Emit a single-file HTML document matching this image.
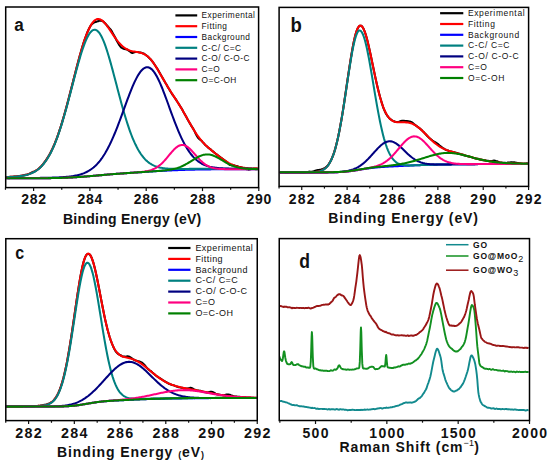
<!DOCTYPE html>
<html><head><meta charset="utf-8"><style>
html,body{margin:0;padding:0;background:#fff;}
body{width:550px;height:465px;overflow:hidden;}
svg{display:block;}
text{font-family:"Liberation Sans",sans-serif;fill:#111;}
.tk,.ax,.pl{font-weight:bold;}
.lg{font-weight:normal;}
.lg2{font-weight:bold;letter-spacing:0.8px;}
</style></head><body>
<svg width="550" height="465" viewBox="0 0 550 465">
<defs>
<clipPath id="ca"><rect x="6.4" y="7.7" width="251.50000000000003" height="179.2"/></clipPath>
<clipPath id="cb"><rect x="279.8" y="8.1" width="248.1" height="177.6"/></clipPath>
<clipPath id="cc_"><rect x="6.5" y="239.39999999999998" width="250.04999999999998" height="180.50000000000003"/></clipPath>
<clipPath id="cd"><rect x="279.95" y="239.29999999999998" width="248.85" height="180.5"/></clipPath>
</defs>
<g clip-path="url(#ca)" fill="none" stroke-linejoin="round" stroke-linecap="round">
<path d="M6.5,177.12 L7.5,176.98 L8.5,177.01 L9.5,176.96 L10.5,176.8 L11.5,176.77 L12.5,176.84 L13.5,176.72 L14.5,176.61 L15.5,176.61 L16.5,176.41 L17.5,176.27 L18.5,176.09 L19.5,176.02 L20.5,175.84 L21.5,175.72 L22.5,175.5 L23.5,175.33 L24.5,175.07 L25.5,174.82 L26.5,174.69 L27.5,174.55 L28.5,174.04 L29.5,173.55 L30.5,173.18 L31.5,172.63 L32.5,172.1 L33.5,171.84 L34.5,171.61 L35.5,170.93 L36.5,170.27 L37.5,169.7 L38.5,168.95 L39.5,167.99 L40.5,167.11 L41.5,166.01 L42.5,164.78 L43.5,163.57 L44.5,162.16 L45.5,160.79 L46.5,159.47 L47.5,157.83 L48.5,156.15 L49.5,154.49 L50.5,152.67 L51.5,150.65 L52.5,148.66 L53.5,146.51 L54.5,144.17 L55.5,141.63 L56.5,139.14 L57.5,136.33 L58.5,133.5 L59.5,130.43 L60.5,127.5 L61.5,124.26 L62.5,120.91 L63.5,117.43 L64.5,114.03 L65.5,110.4 L66.5,106.67 L67.5,102.94 L68.5,99.19 L69.5,95.3 L70.5,91.41 L71.5,87.63 L72.5,83.64 L73.5,79.7 L74.5,75.9 L75.5,71.95 L76.5,67.95 L77.5,64.32 L78.5,60.57 L79.5,56.87 L80.5,53.29 L81.5,49.77 L82.5,46.37 L83.5,43.11 L84.5,40.07 L85.5,37.24 L86.5,34.54 L87.5,31.96 L88.5,29.79 L89.5,27.74 L90.5,25.92 L91.5,24.59 L92.5,23.6 L93.5,22.76 L94.5,22.24 L95.5,21.96 L96.5,21.68 L97.5,21.36 L98.5,21.13 L99.5,20.66 L100.5,20.56 L101.5,20.73 L102.5,21.06 L103.5,21.68 L104.5,22.69 L105.5,23.78 L106.5,24.82 L107.5,26.03 L108.5,27.14 L109.5,28.31 L110.5,29.43 L111.5,30.83 L112.5,32.67 L113.5,34.47 L114.5,36.33 L115.5,38.32 L116.5,40.29 L117.5,42.03 L118.5,43.78 L119.5,45.42 L120.5,46.67 L121.5,47.71 L122.5,48.22 L123.5,48.67 L124.5,49.05 L125.5,49.22 L126.5,49.27 L127.5,49.8 L128.5,50.52 L129.5,51.07 L130.5,51.93 L131.5,52.83 L132.5,52.95 L133.5,52.52 L134.5,52.22 L135.5,52.09 L136.5,51.92 L137.5,52.08 L138.5,52.25 L139.5,52.42 L140.5,52.6 L141.5,52.86 L142.5,53.19 L143.5,53.54 L144.5,54.02 L145.5,54.74 L146.5,55.47 L147.5,56.22 L148.5,57.21 L149.5,58.24 L150.5,59.18 L151.5,60.4 L152.5,61.71 L153.5,62.94 L154.5,64.5 L155.5,66 L156.5,67.47 L157.5,69.02 L158.5,70.76 L159.5,72.54 L160.5,74.24 L161.5,76.08 L162.5,77.73 L163.5,79.5 L164.5,81.17 L165.5,82.95 L166.5,84.57 L167.5,86.42 L168.5,88.11 L169.5,89.7 L170.5,91.45 L171.5,93.08 L172.5,94.56 L173.5,96.03 L174.5,97.51 L175.5,98.9 L176.5,100.42 L177.5,102.04 L178.5,103.5 L179.5,105.17 L180.5,106.75 L181.5,108.32 L182.5,110.04 L183.5,112 L184.5,113.71 L185.5,115.53 L186.5,117.33 L187.5,119.29 L188.5,121.04 L189.5,122.69 L190.5,124.37 L191.5,126.2 L192.5,127.57 L193.5,129.26 L194.5,131.14 L195.5,133.23 L196.5,135.25 L197.5,136.92 L198.5,138.29 L199.5,139.2 L200.5,140 L201.5,140.77 L202.5,141.96 L203.5,142.88 L204.5,144.17 L205.5,145.23 L206.5,146.08 L207.5,146.99 L208.5,147.92 L209.5,148.65 L210.5,149.24 L211.5,150.31 L212.5,151.03 L213.5,151.88 L214.5,152.74 L215.5,153.59 L216.5,154.22 L217.5,155.04 L218.5,155.83 L219.5,156.47 L220.5,157.24 L221.5,157.99 L222.5,158.73 L223.5,159.46 L224.5,160.24 L225.5,161.08 L226.5,161.91 L227.5,162.89 L228.5,163.86 L229.5,164.7 L230.5,165.05 L231.5,165.27 L232.5,165.19 L233.5,165.24 L234.5,165.48 L235.5,165.88 L236.5,166.1 L237.5,166.31 L238.5,166.67 L239.5,166.92 L240.5,167.02 L241.5,167.37 L242.5,167.77 L243.5,167.99 L244.5,168.36 L245.5,168.85 L246.5,169.15 L247.5,169.31 L248.5,169.62 L249.5,169.49 L250.5,169.19 L251.5,168.99 L252.5,168.88 L253.5,168.61 L254.5,168.53 L255.5,168.6 L256.5,168.54 L257.5,168.58" stroke="#000000" stroke-width="2.05"/>
<path d="M6.5,177 L7.5,176.96 L8.5,176.92 L9.5,176.87 L10.5,176.82 L11.5,176.76 L12.5,176.7 L13.5,176.63 L14.5,176.55 L15.5,176.47 L16.5,176.37 L17.5,176.27 L18.5,176.16 L19.5,176.03 L20.5,175.9 L21.5,175.74 L22.5,175.57 L23.5,175.39 L24.5,175.18 L25.5,174.95 L26.5,174.69 L27.5,174.41 L28.5,174.1 L29.5,173.76 L30.5,173.38 L31.5,172.96 L32.5,172.5 L33.5,172 L34.5,171.45 L35.5,170.85 L36.5,170.19 L37.5,169.47 L38.5,168.69 L39.5,167.84 L40.5,166.91 L41.5,165.91 L42.5,164.83 L43.5,163.66 L44.5,162.41 L45.5,161.05 L46.5,159.61 L47.5,158.05 L48.5,156.4 L49.5,154.63 L50.5,152.75 L51.5,150.76 L52.5,148.65 L53.5,146.42 L54.5,144.07 L55.5,141.59 L56.5,139 L57.5,136.28 L58.5,133.45 L59.5,130.5 L60.5,127.43 L61.5,124.25 L62.5,120.96 L63.5,117.57 L64.5,114.08 L65.5,110.5 L66.5,106.84 L67.5,103.11 L68.5,99.32 L69.5,95.47 L70.5,91.58 L71.5,87.66 L72.5,83.72 L73.5,79.77 L74.5,75.84 L75.5,71.93 L76.5,68.05 L77.5,64.23 L78.5,60.48 L79.5,56.8 L80.5,53.23 L81.5,49.76 L82.5,46.43 L83.5,43.23 L84.5,40.19 L85.5,37.32 L86.5,34.63 L87.5,32.13 L88.5,29.83 L89.5,27.73 L90.5,25.86 L91.5,24.2 L92.5,22.77 L93.5,21.57 L94.5,20.6 L95.5,19.86 L96.5,19.36 L97.5,19.09 L98.5,19.04 L99.5,19.21 L100.5,19.58 L101.5,20.14 L102.5,20.88 L103.5,21.77 L104.5,22.8 L105.5,23.95 L106.5,25.2 L107.5,26.54 L108.5,27.95 L109.5,29.41 L110.5,30.89 L111.5,32.39 L112.5,33.89 L113.5,35.37 L114.5,36.82 L115.5,38.22 L116.5,39.58 L117.5,40.87 L118.5,42.09 L119.5,43.24 L120.5,44.31 L121.5,45.29 L122.5,46.2 L123.5,47.02 L124.5,47.76 L125.5,48.42 L126.5,49.01 L127.5,49.52 L128.5,49.97 L129.5,50.35 L130.5,50.68 L131.5,50.96 L132.5,51.2 L133.5,51.4 L134.5,51.58 L135.5,51.74 L136.5,51.91 L137.5,52.07 L138.5,52.26 L139.5,52.47 L140.5,52.72 L141.5,53.02 L142.5,53.37 L143.5,53.8 L144.5,54.29 L145.5,54.87 L146.5,55.54 L147.5,56.29 L148.5,57.15 L149.5,58.12 L150.5,59.2 L151.5,60.38 L152.5,61.66 L153.5,63.03 L154.5,64.49 L155.5,66.01 L156.5,67.6 L157.5,69.25 L158.5,70.93 L159.5,72.65 L160.5,74.39 L161.5,76.13 L162.5,77.88 L163.5,79.62 L164.5,81.35 L165.5,83.06 L166.5,84.74 L167.5,86.4 L168.5,88.03 L169.5,89.64 L170.5,91.22 L171.5,92.78 L172.5,94.33 L173.5,95.86 L174.5,97.4 L175.5,98.93 L176.5,100.48 L177.5,102.04 L178.5,103.62 L179.5,105.22 L180.5,106.85 L181.5,108.51 L182.5,110.2 L183.5,111.91 L184.5,113.66 L185.5,115.42 L186.5,117.19 L187.5,118.98 L188.5,120.76 L189.5,122.54 L190.5,124.3 L191.5,126.04 L192.5,127.74 L193.5,129.4 L194.5,131.02 L195.5,132.58 L196.5,134.09 L197.5,135.53 L198.5,136.91 L199.5,138.23 L200.5,139.49 L201.5,140.69 L202.5,141.83 L203.5,142.91 L204.5,143.95 L205.5,144.95 L206.5,145.9 L207.5,146.83 L208.5,147.72 L209.5,148.6 L210.5,149.45 L211.5,150.29 L212.5,151.12 L213.5,151.94 L214.5,152.75 L215.5,153.55 L216.5,154.35 L217.5,155.14 L218.5,155.92 L219.5,156.69 L220.5,157.45 L221.5,158.19 L222.5,158.92 L223.5,159.62 L224.5,160.31 L225.5,160.97 L226.5,161.6 L227.5,162.2 L228.5,162.78 L229.5,163.32 L230.5,163.83 L231.5,164.31 L232.5,164.75 L233.5,165.16 L234.5,165.54 L235.5,165.89 L236.5,166.21 L237.5,166.5 L238.5,166.76 L239.5,167 L240.5,167.21 L241.5,167.4 L242.5,167.56 L243.5,167.71 L244.5,167.84 L245.5,167.95 L246.5,168.05 L247.5,168.14 L248.5,168.22 L249.5,168.28 L250.5,168.34 L251.5,168.39 L252.5,168.43 L253.5,168.47 L254.5,168.5 L255.5,168.53 L256.5,168.55 L257.5,168.57" stroke="#ff0000" stroke-width="2.05"/>
<path d="M6.5,178.3 L7.5,178.3 L8.5,178.3 L9.5,178.3 L10.5,178.3 L11.5,178.3 L12.5,178.29 L13.5,178.29 L14.5,178.29 L15.5,178.29 L16.5,178.29 L17.5,178.29 L18.5,178.29 L19.5,178.29 L20.5,178.29 L21.5,178.28 L22.5,178.28 L23.5,178.28 L24.5,178.28 L25.5,178.28 L26.5,178.27 L27.5,178.27 L28.5,178.27 L29.5,178.27 L30.5,178.26 L31.5,178.26 L32.5,178.26 L33.5,178.25 L34.5,178.25 L35.5,178.25 L36.5,178.24 L37.5,178.24 L38.5,178.23 L39.5,178.23 L40.5,178.22 L41.5,178.21 L42.5,178.2 L43.5,178.2 L44.5,178.19 L45.5,178.18 L46.5,178.17 L47.5,178.16 L48.5,178.14 L49.5,178.13 L50.5,178.11 L51.5,178.1 L52.5,178.08 L53.5,178.06 L54.5,178.04 L55.5,178.02 L56.5,178 L57.5,177.98 L58.5,177.95 L59.5,177.93 L60.5,177.9 L61.5,177.87 L62.5,177.83 L63.5,177.8 L64.5,177.76 L65.5,177.72 L66.5,177.68 L67.5,177.64 L68.5,177.6 L69.5,177.55 L70.5,177.5 L71.5,177.45 L72.5,177.39 L73.5,177.34 L74.5,177.28 L75.5,177.22 L76.5,177.16 L77.5,177.09 L78.5,177.03 L79.5,176.96 L80.5,176.89 L81.5,176.82 L82.5,176.74 L83.5,176.66 L84.5,176.59 L85.5,176.51 L86.5,176.43 L87.5,176.34 L88.5,176.26 L89.5,176.17 L90.5,176.09 L91.5,176 L92.5,175.91 L93.5,175.83 L94.5,175.74 L95.5,175.65 L96.5,175.56 L97.5,175.47 L98.5,175.38 L99.5,175.29 L100.5,175.2 L101.5,175.11 L102.5,175.02 L103.5,174.94 L104.5,174.85 L105.5,174.76 L106.5,174.68 L107.5,174.59 L108.5,174.51 L109.5,174.43 L110.5,174.34 L111.5,174.26 L112.5,174.18 L113.5,174.1 L114.5,174.03 L115.5,173.95 L116.5,173.87 L117.5,173.8 L118.5,173.72 L119.5,173.65 L120.5,173.57 L121.5,173.5 L122.5,173.43 L123.5,173.36 L124.5,173.29 L125.5,173.21 L126.5,173.14 L127.5,173.07 L128.5,173 L129.5,172.93 L130.5,172.86 L131.5,172.79 L132.5,172.73 L133.5,172.66 L134.5,172.59 L135.5,172.52 L136.5,172.45 L137.5,172.38 L138.5,172.31 L139.5,172.24 L140.5,172.18 L141.5,172.11 L142.5,172.04 L143.5,171.97 L144.5,171.91 L145.5,171.84 L146.5,171.77 L147.5,171.71 L148.5,171.64 L149.5,171.58 L150.5,171.51 L151.5,171.45 L152.5,171.38 L153.5,171.32 L154.5,171.26 L155.5,171.2 L156.5,171.14 L157.5,171.08 L158.5,171.03 L159.5,170.97 L160.5,170.92 L161.5,170.86 L162.5,170.81 L163.5,170.76 L164.5,170.7 L165.5,170.65 L166.5,170.61 L167.5,170.56 L168.5,170.51 L169.5,170.46 L170.5,170.42 L171.5,170.37 L172.5,170.33 L173.5,170.29 L174.5,170.25 L175.5,170.21 L176.5,170.17 L177.5,170.13 L178.5,170.09 L179.5,170.05 L180.5,170.02 L181.5,169.98 L182.5,169.95 L183.5,169.91 L184.5,169.88 L185.5,169.85 L186.5,169.82 L187.5,169.79 L188.5,169.76 L189.5,169.74 L190.5,169.71 L191.5,169.68 L192.5,169.66 L193.5,169.64 L194.5,169.62 L195.5,169.59 L196.5,169.57 L197.5,169.55 L198.5,169.54 L199.5,169.52 L200.5,169.5 L201.5,169.48 L202.5,169.47 L203.5,169.45 L204.5,169.44 L205.5,169.43 L206.5,169.41 L207.5,169.4 L208.5,169.39 L209.5,169.37 L210.5,169.36 L211.5,169.35 L212.5,169.34 L213.5,169.33 L214.5,169.32 L215.5,169.31 L216.5,169.3 L217.5,169.3 L218.5,169.29 L219.5,169.28 L220.5,169.27 L221.5,169.27 L222.5,169.26 L223.5,169.26 L224.5,169.25 L225.5,169.25 L226.5,169.24 L227.5,169.24 L228.5,169.24 L229.5,169.23 L230.5,169.23 L231.5,169.23 L232.5,169.22 L233.5,169.22 L234.5,169.22 L235.5,169.22 L236.5,169.22 L237.5,169.21 L238.5,169.21 L239.5,169.21 L240.5,169.21 L241.5,169.21 L242.5,169.21 L243.5,169.21 L244.5,169.21 L245.5,169.21 L246.5,169.21 L247.5,169.2 L248.5,169.2 L249.5,169.2 L250.5,169.2 L251.5,169.2 L252.5,169.2 L253.5,169.2 L254.5,169.2 L255.5,169.2 L256.5,169.2 L257.5,169.2" stroke="#0000ff" stroke-width="2.05"/>
<path d="M6.5,177.2 L7.5,177.16 L8.5,177.12 L9.5,177.07 L10.5,177.02 L11.5,176.97 L12.5,176.91 L13.5,176.84 L14.5,176.77 L15.5,176.69 L16.5,176.6 L17.5,176.5 L18.5,176.39 L19.5,176.27 L20.5,176.13 L21.5,175.98 L22.5,175.82 L23.5,175.63 L24.5,175.43 L25.5,175.2 L26.5,174.95 L27.5,174.67 L28.5,174.37 L29.5,174.03 L30.5,173.65 L31.5,173.24 L32.5,172.79 L33.5,172.29 L34.5,171.75 L35.5,171.15 L36.5,170.5 L37.5,169.78 L38.5,169.01 L39.5,168.16 L40.5,167.24 L41.5,166.25 L42.5,165.17 L43.5,164.01 L44.5,162.76 L45.5,161.42 L46.5,159.98 L47.5,158.44 L48.5,156.79 L49.5,155.03 L50.5,153.17 L51.5,151.18 L52.5,149.09 L53.5,146.87 L54.5,144.53 L55.5,142.08 L56.5,139.5 L57.5,136.8 L58.5,133.99 L59.5,131.06 L60.5,128.01 L61.5,124.86 L62.5,121.6 L63.5,118.25 L64.5,114.8 L65.5,111.27 L66.5,107.66 L67.5,103.98 L68.5,100.25 L69.5,96.47 L70.5,92.65 L71.5,88.81 L72.5,84.97 L73.5,81.13 L74.5,77.32 L75.5,73.53 L76.5,69.81 L77.5,66.15 L78.5,62.57 L79.5,59.1 L80.5,55.74 L81.5,52.52 L82.5,49.46 L83.5,46.56 L84.5,43.85 L85.5,41.33 L86.5,39.04 L87.5,36.97 L88.5,35.14 L89.5,33.56 L90.5,32.24 L91.5,31.2 L92.5,30.43 L93.5,29.94 L94.5,29.74 L95.5,29.83 L96.5,30.23 L97.5,30.92 L98.5,31.91 L99.5,33.18 L100.5,34.73 L101.5,36.55 L102.5,38.61 L103.5,40.92 L104.5,43.45 L105.5,46.18 L106.5,49.11 L107.5,52.21 L108.5,55.46 L109.5,58.85 L110.5,62.35 L111.5,65.96 L112.5,69.64 L113.5,73.39 L114.5,77.18 L115.5,81 L116.5,84.84 L117.5,88.66 L118.5,92.48 L119.5,96.25 L120.5,99.98 L121.5,103.66 L122.5,107.26 L123.5,110.79 L124.5,114.22 L125.5,117.56 L126.5,120.8 L127.5,123.92 L128.5,126.93 L129.5,129.82 L130.5,132.59 L131.5,135.24 L132.5,137.76 L133.5,140.15 L134.5,142.42 L135.5,144.56 L136.5,146.57 L137.5,148.47 L138.5,150.25 L139.5,151.91 L140.5,153.46 L141.5,154.9 L142.5,156.24 L143.5,157.48 L144.5,158.62 L145.5,159.67 L146.5,160.64 L147.5,161.52 L148.5,162.33 L149.5,163.07 L150.5,163.74 L151.5,164.35 L152.5,164.89 L153.5,165.39 L154.5,165.83 L155.5,166.23 L156.5,166.59 L157.5,166.91 L158.5,167.19 L159.5,167.44 L160.5,167.66 L161.5,167.86 L162.5,168.03 L163.5,168.18 L164.5,168.31 L165.5,168.42 L166.5,168.52 L167.5,168.6 L168.5,168.67 L169.5,168.73 L170.5,168.78 L171.5,168.82 L172.5,168.85 L173.5,168.88 L174.5,168.9 L175.5,168.92 L176.5,168.93 L177.5,168.94 L178.5,168.94 L179.5,168.94 L180.5,168.94 L181.5,168.94 L182.5,168.94 L183.5,168.93 L184.5,168.93 L185.5,168.92 L186.5,168.92 L187.5,168.91 L188.5,168.9 L189.5,168.89 L190.5,168.89 L191.5,168.88 L192.5,168.87 L193.5,168.86 L194.5,168.86 L195.5,168.85 L196.5,168.85 L197.5,168.84 L198.5,168.84 L199.5,168.83 L200.5,168.83 L201.5,168.82 L202.5,168.82 L203.5,168.81 L204.5,168.81 L205.5,168.81 L206.5,168.8 L207.5,168.8 L208.5,168.8 L209.5,168.8 L210.5,168.79 L211.5,168.79 L212.5,168.79 L213.5,168.79 L214.5,168.79 L215.5,168.79 L216.5,168.79 L217.5,168.79 L218.5,168.79 L219.5,168.79 L220.5,168.79 L221.5,168.79 L222.5,168.79 L223.5,168.79 L224.5,168.8 L225.5,168.8 L226.5,168.8 L227.5,168.8 L228.5,168.8 L229.5,168.81 L230.5,168.81 L231.5,168.81 L232.5,168.82 L233.5,168.82 L234.5,168.82 L235.5,168.83 L236.5,168.83 L237.5,168.83 L238.5,168.84 L239.5,168.84 L240.5,168.84 L241.5,168.85 L242.5,168.85 L243.5,168.86 L244.5,168.86 L245.5,168.86 L246.5,168.87 L247.5,168.87 L248.5,168.87 L249.5,168.88 L250.5,168.88 L251.5,168.88 L252.5,168.89 L253.5,168.89 L254.5,168.9 L255.5,168.9 L256.5,168.9 L257.5,168.9" stroke="#008080" stroke-width="2.05"/>
<path d="M6.5,178.11 L7.5,178.1 L8.5,178.1 L9.5,178.1 L10.5,178.09 L11.5,178.09 L12.5,178.08 L13.5,178.08 L14.5,178.08 L15.5,178.07 L16.5,178.07 L17.5,178.06 L18.5,178.06 L19.5,178.05 L20.5,178.05 L21.5,178.04 L22.5,178.04 L23.5,178.03 L24.5,178.03 L25.5,178.02 L26.5,178.01 L27.5,178.01 L28.5,178 L29.5,177.99 L30.5,177.99 L31.5,177.98 L32.5,177.97 L33.5,177.96 L34.5,177.95 L35.5,177.94 L36.5,177.93 L37.5,177.92 L38.5,177.91 L39.5,177.9 L40.5,177.89 L41.5,177.87 L42.5,177.86 L43.5,177.84 L44.5,177.83 L45.5,177.81 L46.5,177.79 L47.5,177.77 L48.5,177.75 L49.5,177.73 L50.5,177.7 L51.5,177.67 L52.5,177.64 L53.5,177.61 L54.5,177.58 L55.5,177.54 L56.5,177.5 L57.5,177.46 L58.5,177.41 L59.5,177.36 L60.5,177.31 L61.5,177.25 L62.5,177.18 L63.5,177.12 L64.5,177.04 L65.5,176.96 L66.5,176.87 L67.5,176.77 L68.5,176.67 L69.5,176.55 L70.5,176.43 L71.5,176.29 L72.5,176.14 L73.5,175.98 L74.5,175.8 L75.5,175.61 L76.5,175.41 L77.5,175.18 L78.5,174.93 L79.5,174.66 L80.5,174.37 L81.5,174.06 L82.5,173.71 L83.5,173.34 L84.5,172.93 L85.5,172.49 L86.5,172.02 L87.5,171.5 L88.5,170.95 L89.5,170.35 L90.5,169.7 L91.5,169.01 L92.5,168.26 L93.5,167.46 L94.5,166.6 L95.5,165.67 L96.5,164.69 L97.5,163.64 L98.5,162.52 L99.5,161.33 L100.5,160.06 L101.5,158.72 L102.5,157.3 L103.5,155.8 L104.5,154.23 L105.5,152.57 L106.5,150.82 L107.5,149 L108.5,147.09 L109.5,145.11 L110.5,143.04 L111.5,140.89 L112.5,138.67 L113.5,136.37 L114.5,134 L115.5,131.57 L116.5,129.07 L117.5,126.52 L118.5,123.91 L119.5,121.26 L120.5,118.58 L121.5,115.86 L122.5,113.13 L123.5,110.38 L124.5,107.62 L125.5,104.88 L126.5,102.14 L127.5,99.44 L128.5,96.77 L129.5,94.15 L130.5,91.59 L131.5,89.11 L132.5,86.7 L133.5,84.39 L134.5,82.18 L135.5,80.09 L136.5,78.12 L137.5,76.29 L138.5,74.6 L139.5,73.08 L140.5,71.71 L141.5,70.51 L142.5,69.49 L143.5,68.66 L144.5,68.01 L145.5,67.56 L146.5,67.3 L147.5,67.23 L148.5,67.38 L149.5,67.74 L150.5,68.32 L151.5,69.1 L152.5,70.08 L153.5,71.25 L154.5,72.61 L155.5,74.15 L156.5,75.86 L157.5,77.72 L158.5,79.73 L159.5,81.87 L160.5,84.13 L161.5,86.5 L162.5,88.96 L163.5,91.51 L164.5,94.12 L165.5,96.79 L166.5,99.51 L167.5,102.25 L168.5,105.01 L169.5,107.78 L170.5,110.54 L171.5,113.29 L172.5,116.01 L173.5,118.7 L174.5,121.34 L175.5,123.94 L176.5,126.47 L177.5,128.94 L178.5,131.34 L179.5,133.66 L180.5,135.91 L181.5,138.07 L182.5,140.14 L183.5,142.12 L184.5,144.02 L185.5,145.82 L186.5,147.54 L187.5,149.16 L188.5,150.7 L189.5,152.14 L190.5,153.5 L191.5,154.78 L192.5,155.97 L193.5,157.09 L194.5,158.12 L195.5,159.08 L196.5,159.98 L197.5,160.8 L198.5,161.56 L199.5,162.26 L200.5,162.9 L201.5,163.49 L202.5,164.03 L203.5,164.52 L204.5,164.96 L205.5,165.37 L206.5,165.74 L207.5,166.07 L208.5,166.37 L209.5,166.64 L210.5,166.88 L211.5,167.1 L212.5,167.29 L213.5,167.46 L214.5,167.62 L215.5,167.76 L216.5,167.88 L217.5,167.99 L218.5,168.09 L219.5,168.17 L220.5,168.25 L221.5,168.32 L222.5,168.38 L223.5,168.43 L224.5,168.48 L225.5,168.52 L226.5,168.56 L227.5,168.59 L228.5,168.62 L229.5,168.65 L230.5,168.67 L231.5,168.69 L232.5,168.71 L233.5,168.73 L234.5,168.74 L235.5,168.76 L236.5,168.77 L237.5,168.78 L238.5,168.79 L239.5,168.8 L240.5,168.81 L241.5,168.82 L242.5,168.83 L243.5,168.84 L244.5,168.85 L245.5,168.85 L246.5,168.86 L247.5,168.87 L248.5,168.87 L249.5,168.88 L250.5,168.88 L251.5,168.89 L252.5,168.9 L253.5,168.9 L254.5,168.91 L255.5,168.91 L256.5,168.92 L257.5,168.92" stroke="#000080" stroke-width="2.05"/>
<path d="M6.5,178.3 L7.5,178.3 L8.5,178.3 L9.5,178.3 L10.5,178.3 L11.5,178.3 L12.5,178.29 L13.5,178.29 L14.5,178.29 L15.5,178.29 L16.5,178.29 L17.5,178.29 L18.5,178.29 L19.5,178.29 L20.5,178.29 L21.5,178.28 L22.5,178.28 L23.5,178.28 L24.5,178.28 L25.5,178.28 L26.5,178.27 L27.5,178.27 L28.5,178.27 L29.5,178.27 L30.5,178.26 L31.5,178.26 L32.5,178.26 L33.5,178.25 L34.5,178.25 L35.5,178.25 L36.5,178.24 L37.5,178.24 L38.5,178.23 L39.5,178.23 L40.5,178.22 L41.5,178.21 L42.5,178.2 L43.5,178.2 L44.5,178.19 L45.5,178.18 L46.5,178.17 L47.5,178.16 L48.5,178.14 L49.5,178.13 L50.5,178.11 L51.5,178.1 L52.5,178.08 L53.5,178.06 L54.5,178.04 L55.5,178.02 L56.5,178 L57.5,177.98 L58.5,177.95 L59.5,177.93 L60.5,177.9 L61.5,177.87 L62.5,177.83 L63.5,177.8 L64.5,177.76 L65.5,177.72 L66.5,177.68 L67.5,177.64 L68.5,177.6 L69.5,177.55 L70.5,177.5 L71.5,177.45 L72.5,177.39 L73.5,177.34 L74.5,177.28 L75.5,177.22 L76.5,177.16 L77.5,177.09 L78.5,177.03 L79.5,176.96 L80.5,176.89 L81.5,176.82 L82.5,176.74 L83.5,176.66 L84.5,176.59 L85.5,176.51 L86.5,176.43 L87.5,176.34 L88.5,176.26 L89.5,176.17 L90.5,176.09 L91.5,176 L92.5,175.91 L93.5,175.83 L94.5,175.74 L95.5,175.65 L96.5,175.56 L97.5,175.47 L98.5,175.38 L99.5,175.29 L100.5,175.2 L101.5,175.11 L102.5,175.02 L103.5,174.94 L104.5,174.85 L105.5,174.76 L106.5,174.68 L107.5,174.59 L108.5,174.51 L109.5,174.43 L110.5,174.34 L111.5,174.26 L112.5,174.18 L113.5,174.1 L114.5,174.03 L115.5,173.95 L116.5,173.87 L117.5,173.8 L118.5,173.72 L119.5,173.65 L120.5,173.57 L121.5,173.5 L122.5,173.43 L123.5,173.36 L124.5,173.28 L125.5,173.21 L126.5,173.14 L127.5,173.07 L128.5,173 L129.5,172.93 L130.5,172.85 L131.5,172.78 L132.5,172.71 L133.5,172.63 L134.5,172.56 L135.5,172.48 L136.5,172.4 L137.5,172.31 L138.5,172.22 L139.5,172.12 L140.5,172.02 L141.5,171.91 L142.5,171.79 L143.5,171.66 L144.5,171.52 L145.5,171.35 L146.5,171.17 L147.5,170.97 L148.5,170.74 L149.5,170.48 L150.5,170.18 L151.5,169.85 L152.5,169.48 L153.5,169.06 L154.5,168.59 L155.5,168.07 L156.5,167.49 L157.5,166.85 L158.5,166.15 L159.5,165.38 L160.5,164.55 L161.5,163.65 L162.5,162.69 L163.5,161.67 L164.5,160.6 L165.5,159.48 L166.5,158.32 L167.5,157.14 L168.5,155.93 L169.5,154.72 L170.5,153.51 L171.5,152.33 L172.5,151.19 L173.5,150.1 L174.5,149.08 L175.5,148.14 L176.5,147.31 L177.5,146.58 L178.5,145.98 L179.5,145.51 L180.5,145.18 L181.5,145 L182.5,144.96 L183.5,145.08 L184.5,145.34 L185.5,145.74 L186.5,146.27 L187.5,146.93 L188.5,147.7 L189.5,148.57 L190.5,149.52 L191.5,150.54 L192.5,151.62 L193.5,152.73 L194.5,153.87 L195.5,155.01 L196.5,156.15 L197.5,157.27 L198.5,158.36 L199.5,159.42 L200.5,160.42 L201.5,161.37 L202.5,162.26 L203.5,163.09 L204.5,163.85 L205.5,164.55 L206.5,165.18 L207.5,165.75 L208.5,166.26 L209.5,166.71 L210.5,167.1 L211.5,167.45 L212.5,167.75 L213.5,168 L214.5,168.22 L215.5,168.41 L216.5,168.57 L217.5,168.7 L218.5,168.8 L219.5,168.89 L220.5,168.96 L221.5,169.02 L222.5,169.07 L223.5,169.1 L224.5,169.13 L225.5,169.15 L226.5,169.17 L227.5,169.18 L228.5,169.19 L229.5,169.2 L230.5,169.21 L231.5,169.21 L232.5,169.21 L233.5,169.21 L234.5,169.21 L235.5,169.21 L236.5,169.21 L237.5,169.21 L238.5,169.21 L239.5,169.21 L240.5,169.21 L241.5,169.21 L242.5,169.21 L243.5,169.21 L244.5,169.21 L245.5,169.21 L246.5,169.2 L247.5,169.2 L248.5,169.2 L249.5,169.2 L250.5,169.2 L251.5,169.2 L252.5,169.2 L253.5,169.2 L254.5,169.2 L255.5,169.2 L256.5,169.2 L257.5,169.2" stroke="#ff0080" stroke-width="2.05"/>
<path d="M6.5,178.3 L7.5,178.3 L8.5,178.3 L9.5,178.3 L10.5,178.3 L11.5,178.3 L12.5,178.29 L13.5,178.29 L14.5,178.29 L15.5,178.29 L16.5,178.29 L17.5,178.29 L18.5,178.29 L19.5,178.29 L20.5,178.29 L21.5,178.28 L22.5,178.28 L23.5,178.28 L24.5,178.28 L25.5,178.28 L26.5,178.27 L27.5,178.27 L28.5,178.27 L29.5,178.27 L30.5,178.26 L31.5,178.26 L32.5,178.26 L33.5,178.25 L34.5,178.25 L35.5,178.25 L36.5,178.24 L37.5,178.24 L38.5,178.23 L39.5,178.23 L40.5,178.22 L41.5,178.21 L42.5,178.2 L43.5,178.2 L44.5,178.19 L45.5,178.18 L46.5,178.17 L47.5,178.16 L48.5,178.14 L49.5,178.13 L50.5,178.11 L51.5,178.1 L52.5,178.08 L53.5,178.06 L54.5,178.04 L55.5,178.02 L56.5,178 L57.5,177.98 L58.5,177.95 L59.5,177.93 L60.5,177.9 L61.5,177.87 L62.5,177.83 L63.5,177.8 L64.5,177.76 L65.5,177.72 L66.5,177.68 L67.5,177.64 L68.5,177.6 L69.5,177.55 L70.5,177.5 L71.5,177.45 L72.5,177.39 L73.5,177.34 L74.5,177.28 L75.5,177.22 L76.5,177.16 L77.5,177.09 L78.5,177.03 L79.5,176.96 L80.5,176.89 L81.5,176.82 L82.5,176.74 L83.5,176.66 L84.5,176.59 L85.5,176.51 L86.5,176.43 L87.5,176.34 L88.5,176.26 L89.5,176.17 L90.5,176.09 L91.5,176 L92.5,175.91 L93.5,175.83 L94.5,175.74 L95.5,175.65 L96.5,175.56 L97.5,175.47 L98.5,175.38 L99.5,175.29 L100.5,175.2 L101.5,175.11 L102.5,175.02 L103.5,174.94 L104.5,174.85 L105.5,174.76 L106.5,174.68 L107.5,174.59 L108.5,174.51 L109.5,174.43 L110.5,174.34 L111.5,174.26 L112.5,174.18 L113.5,174.1 L114.5,174.03 L115.5,173.95 L116.5,173.87 L117.5,173.8 L118.5,173.72 L119.5,173.65 L120.5,173.57 L121.5,173.5 L122.5,173.43 L123.5,173.36 L124.5,173.29 L125.5,173.21 L126.5,173.14 L127.5,173.07 L128.5,173 L129.5,172.93 L130.5,172.86 L131.5,172.79 L132.5,172.73 L133.5,172.66 L134.5,172.59 L135.5,172.52 L136.5,172.45 L137.5,172.38 L138.5,172.31 L139.5,172.24 L140.5,172.18 L141.5,172.11 L142.5,172.04 L143.5,171.97 L144.5,171.9 L145.5,171.83 L146.5,171.77 L147.5,171.7 L148.5,171.63 L149.5,171.57 L150.5,171.5 L151.5,171.43 L152.5,171.36 L153.5,171.3 L154.5,171.23 L155.5,171.16 L156.5,171.09 L157.5,171.02 L158.5,170.95 L159.5,170.87 L160.5,170.79 L161.5,170.71 L162.5,170.62 L163.5,170.53 L164.5,170.43 L165.5,170.33 L166.5,170.21 L167.5,170.09 L168.5,169.95 L169.5,169.81 L170.5,169.64 L171.5,169.46 L172.5,169.27 L173.5,169.05 L174.5,168.81 L175.5,168.55 L176.5,168.27 L177.5,167.96 L178.5,167.62 L179.5,167.26 L180.5,166.87 L181.5,166.44 L182.5,165.99 L183.5,165.52 L184.5,165.01 L185.5,164.48 L186.5,163.92 L187.5,163.35 L188.5,162.75 L189.5,162.14 L190.5,161.52 L191.5,160.89 L192.5,160.26 L193.5,159.63 L194.5,159.02 L195.5,158.41 L196.5,157.83 L197.5,157.28 L198.5,156.76 L199.5,156.28 L200.5,155.85 L201.5,155.46 L202.5,155.13 L203.5,154.86 L204.5,154.65 L205.5,154.5 L206.5,154.42 L207.5,154.41 L208.5,154.46 L209.5,154.58 L210.5,154.77 L211.5,155.01 L212.5,155.32 L213.5,155.68 L214.5,156.08 L215.5,156.54 L216.5,157.03 L217.5,157.56 L218.5,158.11 L219.5,158.68 L220.5,159.27 L221.5,159.87 L222.5,160.47 L223.5,161.07 L224.5,161.66 L225.5,162.24 L226.5,162.8 L227.5,163.34 L228.5,163.87 L229.5,164.36 L230.5,164.83 L231.5,165.27 L232.5,165.69 L233.5,166.07 L234.5,166.42 L235.5,166.75 L236.5,167.05 L237.5,167.32 L238.5,167.56 L239.5,167.78 L240.5,167.97 L241.5,168.14 L242.5,168.3 L243.5,168.43 L244.5,168.55 L245.5,168.65 L246.5,168.74 L247.5,168.81 L248.5,168.88 L249.5,168.93 L250.5,168.98 L251.5,169.02 L252.5,169.05 L253.5,169.08 L254.5,169.1 L255.5,169.12 L256.5,169.14 L257.5,169.15" stroke="#008000" stroke-width="2.05"/>
</g>
<rect x="5.7" y="7.0" width="252.90000000000003" height="180.6" fill="none" stroke="#000" stroke-width="1.5"/>
<line x1="33.60" y1="187.6" x2="33.60" y2="191.1" stroke="#111" stroke-width="1.2"/>
<text x="33.98" y="204.2" class="tk" text-anchor="middle" style="font-size:14px;letter-spacing:0.75px">282</text>
<line x1="89.90" y1="187.6" x2="89.90" y2="191.1" stroke="#111" stroke-width="1.2"/>
<text x="90.28" y="204.2" class="tk" text-anchor="middle" style="font-size:14px;letter-spacing:0.75px">284</text>
<line x1="146.20" y1="187.6" x2="146.20" y2="191.1" stroke="#111" stroke-width="1.2"/>
<text x="146.57" y="204.2" class="tk" text-anchor="middle" style="font-size:14px;letter-spacing:0.75px">286</text>
<line x1="202.50" y1="187.6" x2="202.50" y2="191.1" stroke="#111" stroke-width="1.2"/>
<text x="202.87" y="204.2" class="tk" text-anchor="middle" style="font-size:14px;letter-spacing:0.75px">288</text>
<line x1="258.80" y1="187.6" x2="258.80" y2="191.1" stroke="#111" stroke-width="1.2"/>
<text x="259.18" y="204.2" class="tk" text-anchor="middle" style="font-size:14px;letter-spacing:0.75px">290</text>
<line x1="5.45" y1="187.6" x2="5.45" y2="189.79999999999998" stroke="#111" stroke-width="1.2"/>
<line x1="61.75" y1="187.6" x2="61.75" y2="189.79999999999998" stroke="#111" stroke-width="1.2"/>
<line x1="118.05" y1="187.6" x2="118.05" y2="189.79999999999998" stroke="#111" stroke-width="1.2"/>
<line x1="174.35" y1="187.6" x2="174.35" y2="189.79999999999998" stroke="#111" stroke-width="1.2"/>
<line x1="230.65" y1="187.6" x2="230.65" y2="189.79999999999998" stroke="#111" stroke-width="1.2"/>
<text transform="translate(14.2,31) scale(0.9,1)" class="pl" style="font-size:19px">a</text>
<text x="63" y="223.6" class="ax" style="font-size:14px;letter-spacing:0.25px">Binding Energy (eV)</text>
<line x1="175.4" y1="15.40" x2="197.2" y2="15.40" stroke="#000000" stroke-width="2.2"/>
<text x="201.6" y="18.10" class="lg" style="font-size:8.3px;letter-spacing:0.45px">Experimental</text>
<line x1="175.4" y1="26.20" x2="197.2" y2="26.20" stroke="#ff0000" stroke-width="2.2"/>
<text x="201.6" y="28.90" class="lg" style="font-size:8.3px;letter-spacing:0.45px">Fitting</text>
<line x1="175.4" y1="37.00" x2="197.2" y2="37.00" stroke="#0000ff" stroke-width="2.2"/>
<text x="201.6" y="39.70" class="lg" style="font-size:8.3px;letter-spacing:0.45px">Background</text>
<line x1="175.4" y1="47.80" x2="197.2" y2="47.80" stroke="#008080" stroke-width="2.2"/>
<text x="201.6" y="50.50" class="lg" style="font-size:8.3px;letter-spacing:0.45px">C-C/ C=C</text>
<line x1="175.4" y1="58.60" x2="197.2" y2="58.60" stroke="#000080" stroke-width="2.2"/>
<text x="201.6" y="61.30" class="lg" style="font-size:8.3px;letter-spacing:0.45px">C-O/ C-O-C</text>
<line x1="175.4" y1="69.40" x2="197.2" y2="69.40" stroke="#ff0080" stroke-width="2.2"/>
<text x="201.6" y="72.10" class="lg" style="font-size:8.3px;letter-spacing:0.45px">C=O</text>
<line x1="175.4" y1="80.20" x2="197.2" y2="80.20" stroke="#008000" stroke-width="2.2"/>
<text x="201.6" y="82.90" class="lg" style="font-size:8.3px;letter-spacing:0.45px">O=C-OH</text>
<g clip-path="url(#cb)" fill="none" stroke-linejoin="round" stroke-linecap="round">
<path d="M280,172.28 L281,172.08 L282,172.22 L283,172.3 L284,172.31 L285,172.41 L286,172.63 L287,172.44 L288,172.42 L289,172.42 L290,172.33 L291,172.25 L292,172.33 L293,172.24 L294,172.31 L295,172.28 L296,172.35 L297,172.24 L298,172.32 L299,172.29 L300,172.36 L301,172.38 L302,172.36 L303,172.34 L304,172.48 L305,172.29 L306,172.08 L307,171.98 L308,171.9 L309,171.64 L310,171.71 L311,171.73 L312,171.66 L313,171.39 L314,171.12 L315,170.86 L316,170.47 L317,170.2 L318,169.99 L319,169.97 L320,169.66 L321,169.46 L322,169.21 L323,168.95 L324,168.36 L325,167.96 L326,167.17 L327,166.39 L328,165.26 L329,163.8 L330,162.07 L331,160.41 L332,158.12 L333,155.59 L334,153.03 L335,149.81 L336,146.1 L337,142.05 L338,137.65 L339,132.69 L340,127.52 L341,122.04 L342,116.32 L343,110.05 L344,103.55 L345,96.77 L346,90.13 L347,83.27 L348,76.67 L349,70.07 L350,63.66 L351,57.33 L352,51.39 L353,45.68 L354,40.65 L355,36.5 L356,32.79 L357,29.87 L358,27.74 L359,26.35 L360,25.66 L361,25.7 L362,26.36 L363,27.78 L364,29.78 L365,32.32 L366,35.52 L367,39.08 L368,43.17 L369,47.47 L370,52 L371,56.55 L372,61.42 L373,66.18 L374,71.04 L375,75.73 L376,80.38 L377,84.79 L378,88.9 L379,92.92 L380,96.74 L381,100.32 L382,103.59 L383,106.78 L384,109.4 L385,111.61 L386,113.69 L387,115.3 L388,116.68 L389,117.85 L390,118.97 L391,119.54 L392,120.4 L393,120.86 L394,121.28 L395,121.68 L396,122.07 L397,122.04 L398,121.9 L399,121.77 L400,121.33 L401,121.01 L402,120.83 L403,120.73 L404,120.76 L405,120.94 L406,121.03 L407,121.12 L408,121.26 L409,121.39 L410,121.61 L411,121.89 L412,122.47 L413,123.14 L414,124.07 L415,124.8 L416,125.71 L417,126.38 L418,127.13 L419,127.79 L420,128.61 L421,129.49 L422,130.37 L423,131.45 L424,132.36 L425,133.54 L426,134.51 L427,135.75 L428,136.62 L429,137.74 L430,138.51 L431,139.43 L432,140.18 L433,140.97 L434,141.53 L435,142.15 L436,142.75 L437,143.39 L438,144.14 L439,145.03 L440,145.94 L441,146.62 L442,147.44 L443,148.16 L444,148.73 L445,149.28 L446,149.92 L447,150.26 L448,150.56 L449,150.95 L450,151.22 L451,151.41 L452,151.77 L453,152.18 L454,152.28 L455,152.54 L456,152.78 L457,153.06 L458,153.35 L459,153.69 L460,153.88 L461,154.27 L462,154.43 L463,154.77 L464,155.19 L465,155.52 L466,155.84 L467,155.98 L468,156.16 L469,156.45 L470,156.74 L471,156.92 L472,157.4 L473,157.81 L474,158.03 L475,158.22 L476,158.65 L477,158.72 L478,158.85 L479,159.04 L480,159.44 L481,159.49 L482,159.98 L483,160.18 L484,160.3 L485,160.27 L486,160.5 L487,160.66 L488,160.77 L489,160.98 L490,161.12 L491,161.12 L492,160.9 L493,160.76 L494,160.6 L495,160.76 L496,161.01 L497,161.21 L498,161.76 L499,162.29 L500,162.5 L501,162.49 L502,162.83 L503,162.81 L504,162.78 L505,162.69 L506,162.9 L507,162.68 L508,162.41 L509,162.44 L510,162.51 L511,162.32 L512,162.29 L513,162.49 L514,162.33 L515,162.49 L516,162.68 L517,162.88 L518,162.9 L519,163.25 L520,163.32 L521,163.44 L522,163.64 L523,163.71 L524,163.59 L525,163.45 L526,163.43 L527,163.37 L528,163.45" stroke="#000000" stroke-width="2.05"/>
<path d="M280,172.34 L281,172.34 L282,172.33 L283,172.33 L284,172.33 L285,172.33 L286,172.33 L287,172.33 L288,172.33 L289,172.33 L290,172.33 L291,172.33 L292,172.33 L293,172.32 L294,172.32 L295,172.32 L296,172.32 L297,172.32 L298,172.32 L299,172.32 L300,172.31 L301,172.31 L302,172.31 L303,172.3 L304,172.3 L305,172.29 L306,172.29 L307,172.28 L308,172.26 L309,172.25 L310,172.22 L311,172.19 L312,172.15 L313,172.1 L314,172.04 L315,171.96 L316,171.85 L317,171.71 L318,171.54 L319,171.33 L320,171.06 L321,170.73 L322,170.32 L323,169.83 L324,169.22 L325,168.49 L326,167.62 L327,166.58 L328,165.35 L329,163.91 L330,162.24 L331,160.29 L332,158.07 L333,155.53 L334,152.65 L335,149.42 L336,145.82 L337,141.84 L338,137.47 L339,132.72 L340,127.58 L341,122.09 L342,116.26 L343,110.12 L344,103.73 L345,97.13 L346,90.39 L347,83.57 L348,76.77 L349,70.05 L350,63.5 L351,57.22 L352,51.3 L353,45.81 L354,40.85 L355,36.49 L356,32.8 L357,29.83 L358,27.63 L359,26.22 L360,25.6 L361,25.68 L362,26.43 L363,27.84 L364,29.86 L365,32.45 L366,35.56 L367,39.13 L368,43.09 L369,47.37 L370,51.9 L371,56.61 L372,61.44 L373,66.3 L374,71.14 L375,75.9 L376,80.54 L377,84.99 L378,89.24 L379,93.24 L380,96.97 L381,100.42 L382,103.58 L383,106.45 L384,109.02 L385,111.3 L386,113.31 L387,115.05 L388,116.55 L389,117.82 L390,118.88 L391,119.75 L392,120.46 L393,121.02 L394,121.44 L395,121.77 L396,121.99 L397,122.15 L398,122.24 L399,122.29 L400,122.31 L401,122.31 L402,122.3 L403,122.29 L404,122.29 L405,122.32 L406,122.37 L407,122.46 L408,122.59 L409,122.77 L410,123.01 L411,123.3 L412,123.65 L413,124.06 L414,124.54 L415,125.09 L416,125.69 L417,126.37 L418,127.1 L419,127.89 L420,128.73 L421,129.62 L422,130.54 L423,131.51 L424,132.5 L425,133.51 L426,134.54 L427,135.57 L428,136.6 L429,137.62 L430,138.63 L431,139.61 L432,140.57 L433,141.49 L434,142.38 L435,143.22 L436,144.03 L437,144.79 L438,145.51 L439,146.18 L440,146.81 L441,147.4 L442,147.95 L443,148.45 L444,148.92 L445,149.36 L446,149.77 L447,150.16 L448,150.52 L449,150.86 L450,151.18 L451,151.49 L452,151.78 L453,152.07 L454,152.35 L455,152.63 L456,152.9 L457,153.18 L458,153.45 L459,153.72 L460,153.99 L461,154.26 L462,154.54 L463,154.81 L464,155.09 L465,155.37 L466,155.65 L467,155.93 L468,156.22 L469,156.5 L470,156.78 L471,157.06 L472,157.33 L473,157.61 L474,157.88 L475,158.15 L476,158.41 L477,158.67 L478,158.92 L479,159.17 L480,159.41 L481,159.64 L482,159.87 L483,160.09 L484,160.3 L485,160.51 L486,160.71 L487,160.9 L488,161.08 L489,161.25 L490,161.42 L491,161.58 L492,161.73 L493,161.87 L494,162 L495,162.13 L496,162.25 L497,162.36 L498,162.47 L499,162.57 L500,162.66 L501,162.75 L502,162.83 L503,162.91 L504,162.98 L505,163.04 L506,163.11 L507,163.16 L508,163.21 L509,163.26 L510,163.31 L511,163.35 L512,163.39 L513,163.42 L514,163.46 L515,163.49 L516,163.51 L517,163.54 L518,163.56 L519,163.58 L520,163.6 L521,163.62 L522,163.64 L523,163.65 L524,163.67 L525,163.68 L526,163.69 L527,163.7 L528,163.71" stroke="#ff0000" stroke-width="2.05"/>
<path d="M280,172.4 L281,172.4 L282,172.4 L283,172.4 L284,172.4 L285,172.4 L286,172.4 L287,172.4 L288,172.4 L289,172.4 L290,172.4 L291,172.4 L292,172.4 L293,172.4 L294,172.4 L295,172.4 L296,172.4 L297,172.4 L298,172.4 L299,172.4 L300,172.4 L301,172.4 L302,172.4 L303,172.4 L304,172.4 L305,172.4 L306,172.4 L307,172.4 L308,172.4 L309,172.4 L310,172.4 L311,172.4 L312,172.4 L313,172.4 L314,172.4 L315,172.4 L316,172.39 L317,172.39 L318,172.39 L319,172.39 L320,172.39 L321,172.39 L322,172.39 L323,172.38 L324,172.38 L325,172.38 L326,172.37 L327,172.36 L328,172.36 L329,172.35 L330,172.33 L331,172.32 L332,172.3 L333,172.29 L334,172.26 L335,172.24 L336,172.21 L337,172.17 L338,172.13 L339,172.09 L340,172.04 L341,171.98 L342,171.92 L343,171.85 L344,171.77 L345,171.69 L346,171.6 L347,171.5 L348,171.39 L349,171.28 L350,171.16 L351,171.03 L352,170.89 L353,170.75 L354,170.61 L355,170.45 L356,170.3 L357,170.14 L358,169.98 L359,169.82 L360,169.66 L361,169.5 L362,169.33 L363,169.18 L364,169.02 L365,168.87 L366,168.72 L367,168.57 L368,168.43 L369,168.29 L370,168.16 L371,168.04 L372,167.92 L373,167.8 L374,167.69 L375,167.59 L376,167.49 L377,167.4 L378,167.31 L379,167.23 L380,167.15 L381,167.08 L382,167.01 L383,166.94 L384,166.87 L385,166.81 L386,166.75 L387,166.7 L388,166.64 L389,166.59 L390,166.53 L391,166.48 L392,166.43 L393,166.38 L394,166.33 L395,166.28 L396,166.24 L397,166.19 L398,166.14 L399,166.09 L400,166.04 L401,166 L402,165.95 L403,165.9 L404,165.85 L405,165.81 L406,165.76 L407,165.71 L408,165.66 L409,165.62 L410,165.57 L411,165.52 L412,165.48 L413,165.43 L414,165.39 L415,165.34 L416,165.3 L417,165.25 L418,165.21 L419,165.17 L420,165.13 L421,165.09 L422,165.05 L423,165.01 L424,164.98 L425,164.94 L426,164.91 L427,164.88 L428,164.84 L429,164.81 L430,164.78 L431,164.76 L432,164.73 L433,164.7 L434,164.68 L435,164.65 L436,164.63 L437,164.61 L438,164.59 L439,164.56 L440,164.54 L441,164.53 L442,164.51 L443,164.49 L444,164.47 L445,164.45 L446,164.44 L447,164.42 L448,164.41 L449,164.39 L450,164.37 L451,164.36 L452,164.35 L453,164.33 L454,164.32 L455,164.31 L456,164.29 L457,164.28 L458,164.27 L459,164.26 L460,164.24 L461,164.23 L462,164.22 L463,164.21 L464,164.2 L465,164.19 L466,164.18 L467,164.17 L468,164.16 L469,164.15 L470,164.15 L471,164.14 L472,164.13 L473,164.12 L474,164.12 L475,164.11 L476,164.1 L477,164.1 L478,164.09 L479,164.09 L480,164.08 L481,164.08 L482,164.07 L483,164.07 L484,164.06 L485,164.06 L486,164.05 L487,164.05 L488,164.05 L489,164.04 L490,164.04 L491,164.04 L492,164.04 L493,164.03 L494,164.03 L495,164.03 L496,164.03 L497,164.02 L498,164.02 L499,164.02 L500,164.02 L501,164.02 L502,164.02 L503,164.02 L504,164.01 L505,164.01 L506,164.01 L507,164.01 L508,164.01 L509,164.01 L510,164.01 L511,164.01 L512,164.01 L513,164.01 L514,164.01 L515,164.01 L516,164 L517,164 L518,164 L519,164 L520,164 L521,164 L522,164 L523,164 L524,164 L525,164 L526,164 L527,164 L528,164" stroke="#0000ff" stroke-width="2.05"/>
<path d="M280,172.4 L281,172.4 L282,172.4 L283,172.4 L284,172.4 L285,172.4 L286,172.4 L287,172.4 L288,172.4 L289,172.4 L290,172.4 L291,172.4 L292,172.4 L293,172.4 L294,172.4 L295,172.4 L296,172.4 L297,172.4 L298,172.4 L299,172.4 L300,172.4 L301,172.39 L302,172.39 L303,172.39 L304,172.39 L305,172.38 L306,172.37 L307,172.37 L308,172.35 L309,172.34 L310,172.32 L311,172.29 L312,172.25 L313,172.2 L314,172.14 L315,172.06 L316,171.95 L317,171.82 L318,171.65 L319,171.44 L320,171.17 L321,170.84 L322,170.44 L323,169.94 L324,169.34 L325,168.61 L326,167.74 L327,166.71 L328,165.48 L329,164.05 L330,162.37 L331,160.44 L332,158.21 L333,155.68 L334,152.82 L335,149.6 L336,146.01 L337,142.05 L338,137.7 L339,132.97 L340,127.87 L341,122.41 L342,116.63 L343,110.55 L344,104.22 L345,97.71 L346,91.07 L347,84.37 L348,77.7 L349,71.14 L350,64.78 L351,58.71 L352,53.03 L353,47.82 L354,43.17 L355,39.15 L356,35.83 L357,33.27 L358,31.51 L359,30.59 L360,30.49 L361,31.13 L362,32.49 L363,34.54 L364,37.25 L365,40.58 L366,44.47 L367,48.87 L368,53.72 L369,58.93 L370,64.45 L371,70.2 L372,76.1 L373,82.09 L374,88.1 L375,94.06 L376,99.93 L377,105.64 L378,111.15 L379,116.42 L380,121.43 L381,126.15 L382,130.57 L383,134.66 L384,138.43 L385,141.88 L386,145.02 L387,147.84 L388,150.37 L389,152.63 L390,154.61 L391,156.36 L392,157.88 L393,159.19 L394,160.32 L395,161.28 L396,162.1 L397,162.78 L398,163.35 L399,163.82 L400,164.21 L401,164.51 L402,164.76 L403,164.95 L404,165.1 L405,165.21 L406,165.29 L407,165.35 L408,165.38 L409,165.4 L410,165.4 L411,165.39 L412,165.38 L413,165.36 L414,165.33 L415,165.3 L416,165.27 L417,165.23 L418,165.19 L419,165.16 L420,165.12 L421,165.08 L422,165.05 L423,165.01 L424,164.97 L425,164.94 L426,164.91 L427,164.87 L428,164.84 L429,164.81 L430,164.78 L431,164.75 L432,164.73 L433,164.7 L434,164.68 L435,164.65 L436,164.63 L437,164.61 L438,164.59 L439,164.56 L440,164.54 L441,164.53 L442,164.51 L443,164.49 L444,164.47 L445,164.45 L446,164.44 L447,164.42 L448,164.41 L449,164.39 L450,164.37 L451,164.36 L452,164.35 L453,164.33 L454,164.32 L455,164.31 L456,164.29 L457,164.28 L458,164.27 L459,164.26 L460,164.24 L461,164.23 L462,164.22 L463,164.21 L464,164.2 L465,164.19 L466,164.18 L467,164.17 L468,164.16 L469,164.15 L470,164.15 L471,164.14 L472,164.13 L473,164.12 L474,164.12 L475,164.11 L476,164.1 L477,164.1 L478,164.09 L479,164.09 L480,164.08 L481,164.08 L482,164.07 L483,164.07 L484,164.06 L485,164.06 L486,164.05 L487,164.05 L488,164.05 L489,164.04 L490,164.04 L491,164.04 L492,164.04 L493,164.03 L494,164.03 L495,164.03 L496,164.03 L497,164.02 L498,164.02 L499,164.02 L500,164.02 L501,164.02 L502,164.02 L503,164.02 L504,164.01 L505,164.01 L506,164.01 L507,164.01 L508,164.01 L509,164.01 L510,164.01 L511,164.01 L512,164.01 L513,164.01 L514,164.01 L515,164.01 L516,164 L517,164 L518,164 L519,164 L520,164 L521,164 L522,164 L523,164 L524,164 L525,164 L526,164 L527,164 L528,164" stroke="#008080" stroke-width="2.05"/>
<path d="M280,172.4 L281,172.4 L282,172.4 L283,172.4 L284,172.4 L285,172.4 L286,172.4 L287,172.4 L288,172.4 L289,172.4 L290,172.4 L291,172.4 L292,172.4 L293,172.4 L294,172.4 L295,172.4 L296,172.4 L297,172.4 L298,172.4 L299,172.4 L300,172.4 L301,172.4 L302,172.4 L303,172.4 L304,172.4 L305,172.4 L306,172.4 L307,172.4 L308,172.4 L309,172.4 L310,172.4 L311,172.4 L312,172.4 L313,172.4 L314,172.4 L315,172.4 L316,172.39 L317,172.39 L318,172.39 L319,172.39 L320,172.39 L321,172.39 L322,172.38 L323,172.38 L324,172.38 L325,172.37 L326,172.37 L327,172.36 L328,172.35 L329,172.34 L330,172.32 L331,172.31 L332,172.29 L333,172.26 L334,172.23 L335,172.2 L336,172.16 L337,172.11 L338,172.06 L339,172 L340,171.92 L341,171.84 L342,171.74 L343,171.63 L344,171.5 L345,171.36 L346,171.2 L347,171.01 L348,170.81 L349,170.58 L350,170.32 L351,170.04 L352,169.72 L353,169.38 L354,168.99 L355,168.57 L356,168.11 L357,167.62 L358,167.07 L359,166.49 L360,165.85 L361,165.17 L362,164.45 L363,163.67 L364,162.85 L365,161.98 L366,161.07 L367,160.11 L368,159.11 L369,158.08 L370,157.01 L371,155.92 L372,154.81 L373,153.68 L374,152.55 L375,151.43 L376,150.32 L377,149.23 L378,148.17 L379,147.15 L380,146.19 L381,145.29 L382,144.46 L383,143.71 L384,143.05 L385,142.48 L386,142.02 L387,141.67 L388,141.42 L389,141.29 L390,141.27 L391,141.36 L392,141.57 L393,141.88 L394,142.3 L395,142.81 L396,143.41 L397,144.09 L398,144.84 L399,145.65 L400,146.52 L401,147.43 L402,148.37 L403,149.33 L404,150.3 L405,151.28 L406,152.25 L407,153.2 L408,154.13 L409,155.03 L410,155.9 L411,156.72 L412,157.51 L413,158.25 L414,158.94 L415,159.58 L416,160.17 L417,160.71 L418,161.21 L419,161.65 L420,162.06 L421,162.42 L422,162.73 L423,163.02 L424,163.26 L425,163.48 L426,163.66 L427,163.82 L428,163.95 L429,164.06 L430,164.16 L431,164.23 L432,164.3 L433,164.35 L434,164.38 L435,164.41 L436,164.43 L437,164.45 L438,164.46 L439,164.46 L440,164.46 L441,164.46 L442,164.45 L443,164.45 L444,164.44 L445,164.43 L446,164.42 L447,164.41 L448,164.39 L449,164.38 L450,164.37 L451,164.36 L452,164.34 L453,164.33 L454,164.32 L455,164.3 L456,164.29 L457,164.28 L458,164.27 L459,164.26 L460,164.24 L461,164.23 L462,164.22 L463,164.21 L464,164.2 L465,164.19 L466,164.18 L467,164.17 L468,164.16 L469,164.15 L470,164.15 L471,164.14 L472,164.13 L473,164.12 L474,164.12 L475,164.11 L476,164.1 L477,164.1 L478,164.09 L479,164.09 L480,164.08 L481,164.08 L482,164.07 L483,164.07 L484,164.06 L485,164.06 L486,164.05 L487,164.05 L488,164.05 L489,164.04 L490,164.04 L491,164.04 L492,164.04 L493,164.03 L494,164.03 L495,164.03 L496,164.03 L497,164.02 L498,164.02 L499,164.02 L500,164.02 L501,164.02 L502,164.02 L503,164.02 L504,164.01 L505,164.01 L506,164.01 L507,164.01 L508,164.01 L509,164.01 L510,164.01 L511,164.01 L512,164.01 L513,164.01 L514,164.01 L515,164.01 L516,164 L517,164 L518,164 L519,164 L520,164 L521,164 L522,164 L523,164 L524,164 L525,164 L526,164 L527,164 L528,164" stroke="#000080" stroke-width="2.05"/>
<path d="M280,172.4 L281,172.4 L282,172.4 L283,172.4 L284,172.4 L285,172.4 L286,172.4 L287,172.4 L288,172.4 L289,172.4 L290,172.4 L291,172.4 L292,172.4 L293,172.4 L294,172.4 L295,172.4 L296,172.4 L297,172.4 L298,172.4 L299,172.4 L300,172.4 L301,172.4 L302,172.4 L303,172.4 L304,172.4 L305,172.4 L306,172.4 L307,172.4 L308,172.4 L309,172.4 L310,172.4 L311,172.4 L312,172.4 L313,172.4 L314,172.4 L315,172.4 L316,172.39 L317,172.39 L318,172.39 L319,172.39 L320,172.39 L321,172.39 L322,172.39 L323,172.38 L324,172.38 L325,172.38 L326,172.37 L327,172.36 L328,172.36 L329,172.35 L330,172.33 L331,172.32 L332,172.3 L333,172.29 L334,172.26 L335,172.24 L336,172.21 L337,172.17 L338,172.13 L339,172.09 L340,172.04 L341,171.98 L342,171.92 L343,171.85 L344,171.77 L345,171.69 L346,171.6 L347,171.5 L348,171.39 L349,171.27 L350,171.15 L351,171.02 L352,170.89 L353,170.74 L354,170.59 L355,170.44 L356,170.28 L357,170.12 L358,169.95 L359,169.78 L360,169.6 L361,169.43 L362,169.25 L363,169.07 L364,168.89 L365,168.71 L366,168.52 L367,168.33 L368,168.13 L369,167.93 L370,167.72 L371,167.51 L372,167.28 L373,167.04 L374,166.79 L375,166.51 L376,166.22 L377,165.9 L378,165.56 L379,165.18 L380,164.78 L381,164.33 L382,163.84 L383,163.31 L384,162.74 L385,162.11 L386,161.44 L387,160.71 L388,159.92 L389,159.09 L390,158.2 L391,157.25 L392,156.26 L393,155.22 L394,154.13 L395,153.01 L396,151.85 L397,150.67 L398,149.47 L399,148.27 L400,147.07 L401,145.88 L402,144.71 L403,143.58 L404,142.5 L405,141.47 L406,140.51 L407,139.63 L408,138.84 L409,138.14 L410,137.56 L411,137.08 L412,136.73 L413,136.49 L414,136.39 L415,136.4 L416,136.55 L417,136.81 L418,137.2 L419,137.7 L420,138.3 L421,139.01 L422,139.8 L423,140.68 L424,141.62 L425,142.62 L426,143.67 L427,144.76 L428,145.87 L429,146.99 L430,148.12 L431,149.24 L432,150.34 L433,151.42 L434,152.47 L435,153.49 L436,154.45 L437,155.38 L438,156.25 L439,157.07 L440,157.83 L441,158.54 L442,159.19 L443,159.79 L444,160.34 L445,160.83 L446,161.27 L447,161.67 L448,162.03 L449,162.34 L450,162.62 L451,162.86 L452,163.07 L453,163.25 L454,163.41 L455,163.54 L456,163.66 L457,163.75 L458,163.83 L459,163.89 L460,163.95 L461,163.99 L462,164.02 L463,164.05 L464,164.07 L465,164.09 L466,164.1 L467,164.11 L468,164.11 L469,164.11 L470,164.11 L471,164.11 L472,164.11 L473,164.11 L474,164.1 L475,164.1 L476,164.1 L477,164.09 L478,164.09 L479,164.08 L480,164.08 L481,164.07 L482,164.07 L483,164.06 L484,164.06 L485,164.06 L486,164.05 L487,164.05 L488,164.05 L489,164.04 L490,164.04 L491,164.04 L492,164.04 L493,164.03 L494,164.03 L495,164.03 L496,164.03 L497,164.02 L498,164.02 L499,164.02 L500,164.02 L501,164.02 L502,164.02 L503,164.02 L504,164.01 L505,164.01 L506,164.01 L507,164.01 L508,164.01 L509,164.01 L510,164.01 L511,164.01 L512,164.01 L513,164.01 L514,164.01 L515,164.01 L516,164 L517,164 L518,164 L519,164 L520,164 L521,164 L522,164 L523,164 L524,164 L525,164 L526,164 L527,164 L528,164" stroke="#ff0080" stroke-width="2.05"/>
<path d="M280,172.34 L281,172.34 L282,172.33 L283,172.33 L284,172.33 L285,172.33 L286,172.33 L287,172.33 L288,172.33 L289,172.33 L290,172.33 L291,172.33 L292,172.33 L293,172.32 L294,172.32 L295,172.32 L296,172.32 L297,172.32 L298,172.32 L299,172.32 L300,172.32 L301,172.32 L302,172.31 L303,172.31 L304,172.31 L305,172.31 L306,172.31 L307,172.31 L308,172.31 L309,172.31 L310,172.3 L311,172.3 L312,172.3 L313,172.3 L314,172.3 L315,172.3 L316,172.29 L317,172.29 L318,172.29 L319,172.29 L320,172.28 L321,172.28 L322,172.27 L323,172.27 L324,172.27 L325,172.26 L326,172.25 L327,172.24 L328,172.23 L329,172.22 L330,172.21 L331,172.19 L332,172.17 L333,172.15 L334,172.13 L335,172.1 L336,172.07 L337,172.03 L338,171.99 L339,171.94 L340,171.89 L341,171.83 L342,171.77 L343,171.69 L344,171.61 L345,171.53 L346,171.43 L347,171.33 L348,171.22 L349,171.1 L350,170.97 L351,170.84 L352,170.7 L353,170.56 L354,170.41 L355,170.25 L356,170.09 L357,169.93 L358,169.76 L359,169.6 L360,169.43 L361,169.26 L362,169.09 L363,168.93 L364,168.76 L365,168.6 L366,168.44 L367,168.29 L368,168.13 L369,167.99 L370,167.84 L371,167.7 L372,167.57 L373,167.44 L374,167.31 L375,167.19 L376,167.07 L377,166.96 L378,166.85 L379,166.74 L380,166.63 L381,166.53 L382,166.42 L383,166.32 L384,166.22 L385,166.11 L386,166.01 L387,165.9 L388,165.79 L389,165.68 L390,165.56 L391,165.45 L392,165.32 L393,165.2 L394,165.06 L395,164.93 L396,164.78 L397,164.63 L398,164.48 L399,164.31 L400,164.14 L401,163.97 L402,163.78 L403,163.59 L404,163.39 L405,163.18 L406,162.97 L407,162.74 L408,162.51 L409,162.27 L410,162.02 L411,161.77 L412,161.5 L413,161.23 L414,160.96 L415,160.67 L416,160.38 L417,160.09 L418,159.79 L419,159.48 L420,159.18 L421,158.86 L422,158.55 L423,158.24 L424,157.92 L425,157.61 L426,157.29 L427,156.98 L428,156.67 L429,156.37 L430,156.07 L431,155.78 L432,155.49 L433,155.22 L434,154.95 L435,154.7 L436,154.45 L437,154.23 L438,154.01 L439,153.81 L440,153.63 L441,153.47 L442,153.33 L443,153.21 L444,153.1 L445,153.02 L446,152.96 L447,152.92 L448,152.91 L449,152.91 L450,152.94 L451,152.99 L452,153.06 L453,153.15 L454,153.27 L455,153.4 L456,153.54 L457,153.71 L458,153.89 L459,154.08 L460,154.29 L461,154.51 L462,154.74 L463,154.98 L464,155.22 L465,155.48 L466,155.74 L467,156 L468,156.27 L469,156.54 L470,156.81 L471,157.08 L472,157.35 L473,157.62 L474,157.89 L475,158.16 L476,158.42 L477,158.67 L478,158.93 L479,159.17 L480,159.41 L481,159.65 L482,159.87 L483,160.09 L484,160.31 L485,160.51 L486,160.71 L487,160.9 L488,161.08 L489,161.25 L490,161.42 L491,161.58 L492,161.73 L493,161.87 L494,162 L495,162.13 L496,162.25 L497,162.36 L498,162.47 L499,162.57 L500,162.66 L501,162.75 L502,162.83 L503,162.91 L504,162.98 L505,163.04 L506,163.11 L507,163.16 L508,163.21 L509,163.26 L510,163.31 L511,163.35 L512,163.39 L513,163.42 L514,163.46 L515,163.49 L516,163.51 L517,163.54 L518,163.56 L519,163.58 L520,163.6 L521,163.62 L522,163.64 L523,163.65 L524,163.67 L525,163.68 L526,163.69 L527,163.7 L528,163.71" stroke="#008000" stroke-width="2.05"/>
</g>
<rect x="279.1" y="7.4" width="249.5" height="179.0" fill="none" stroke="#000" stroke-width="1.5"/>
<line x1="301.75" y1="186.4" x2="301.75" y2="189.9" stroke="#111" stroke-width="1.2"/>
<text x="302.35" y="203.8" class="tk" text-anchor="middle" style="font-size:14px;letter-spacing:1.2px">282</text>
<line x1="347.12" y1="186.4" x2="347.12" y2="189.9" stroke="#111" stroke-width="1.2"/>
<text x="347.72" y="203.8" class="tk" text-anchor="middle" style="font-size:14px;letter-spacing:1.2px">284</text>
<line x1="392.49" y1="186.4" x2="392.49" y2="189.9" stroke="#111" stroke-width="1.2"/>
<text x="393.09" y="203.8" class="tk" text-anchor="middle" style="font-size:14px;letter-spacing:1.2px">286</text>
<line x1="437.86" y1="186.4" x2="437.86" y2="189.9" stroke="#111" stroke-width="1.2"/>
<text x="438.46" y="203.8" class="tk" text-anchor="middle" style="font-size:14px;letter-spacing:1.2px">288</text>
<line x1="483.23" y1="186.4" x2="483.23" y2="189.9" stroke="#111" stroke-width="1.2"/>
<text x="483.83" y="203.8" class="tk" text-anchor="middle" style="font-size:14px;letter-spacing:1.2px">290</text>
<line x1="528.60" y1="186.4" x2="528.60" y2="189.9" stroke="#111" stroke-width="1.2"/>
<text x="529.20" y="203.8" class="tk" text-anchor="middle" style="font-size:14px;letter-spacing:1.2px">292</text>
<line x1="279.06" y1="186.4" x2="279.06" y2="188.6" stroke="#111" stroke-width="1.2"/>
<line x1="324.44" y1="186.4" x2="324.44" y2="188.6" stroke="#111" stroke-width="1.2"/>
<line x1="369.81" y1="186.4" x2="369.81" y2="188.6" stroke="#111" stroke-width="1.2"/>
<line x1="415.18" y1="186.4" x2="415.18" y2="188.6" stroke="#111" stroke-width="1.2"/>
<line x1="460.54" y1="186.4" x2="460.54" y2="188.6" stroke="#111" stroke-width="1.2"/>
<line x1="505.91" y1="186.4" x2="505.91" y2="188.6" stroke="#111" stroke-width="1.2"/>
<text transform="translate(290.6,31.8) scale(0.95,1)" class="pl" style="font-size:19.5px">b</text>
<text x="328.3" y="222.8" class="ax" style="font-size:14px;letter-spacing:0.88px">Binding Energy (eV)</text>
<line x1="440.1" y1="13.20" x2="463.3" y2="13.20" stroke="#000000" stroke-width="2.2"/>
<text x="467.9" y="15.90" class="lg" style="font-size:8.5px;letter-spacing:0.65px">Experimental</text>
<line x1="440.1" y1="24.00" x2="463.3" y2="24.00" stroke="#ff0000" stroke-width="2.2"/>
<text x="467.9" y="26.70" class="lg" style="font-size:8.5px;letter-spacing:0.65px">Fitting</text>
<line x1="440.1" y1="34.80" x2="463.3" y2="34.80" stroke="#0000ff" stroke-width="2.2"/>
<text x="467.9" y="37.50" class="lg" style="font-size:8.5px;letter-spacing:0.65px">Background</text>
<line x1="440.1" y1="45.60" x2="463.3" y2="45.60" stroke="#008080" stroke-width="2.2"/>
<text x="467.9" y="48.30" class="lg" style="font-size:8.5px;letter-spacing:0.65px">C-C/ C=C</text>
<line x1="440.1" y1="56.40" x2="463.3" y2="56.40" stroke="#000080" stroke-width="2.2"/>
<text x="467.9" y="59.10" class="lg" style="font-size:8.5px;letter-spacing:0.65px">C-O/ C-O-C</text>
<line x1="440.1" y1="67.20" x2="463.3" y2="67.20" stroke="#ff0080" stroke-width="2.2"/>
<text x="467.9" y="69.90" class="lg" style="font-size:8.5px;letter-spacing:0.65px">C=O</text>
<line x1="440.1" y1="78.00" x2="463.3" y2="78.00" stroke="#008000" stroke-width="2.2"/>
<text x="467.9" y="80.70" class="lg" style="font-size:8.5px;letter-spacing:0.65px">O=C-OH</text>
<g clip-path="url(#cc_)" fill="none" stroke-linejoin="round" stroke-linecap="round">
<path d="M6.5,406.39 L7.5,406.34 L8.5,406.3 L9.5,406.12 L10.5,406.15 L11.5,406.09 L12.5,406.06 L13.5,406.36 L14.5,406.39 L15.5,406.51 L16.5,406.5 L17.5,406.51 L18.5,406.15 L19.5,406.09 L20.5,406.15 L21.5,406.14 L22.5,406.26 L23.5,406.32 L24.5,406.34 L25.5,406.41 L26.5,406.46 L27.5,406.32 L28.5,406.31 L29.5,406.33 L30.5,406.34 L31.5,406.25 L32.5,406.25 L33.5,406.31 L34.5,406.17 L35.5,405.95 L36.5,406 L37.5,406.01 L38.5,405.88 L39.5,405.93 L40.5,405.64 L41.5,405.55 L42.5,405.3 L43.5,405 L44.5,404.78 L45.5,404.84 L46.5,404.45 L47.5,404.11 L48.5,403.85 L49.5,403.34 L50.5,402.83 L51.5,402.24 L52.5,401.53 L53.5,400.65 L54.5,399.51 L55.5,398.01 L56.5,396.46 L57.5,394.72 L58.5,392.59 L59.5,390.23 L60.5,387.69 L61.5,384.49 L62.5,381.2 L63.5,377.59 L64.5,373.48 L65.5,369.05 L66.5,364.37 L67.5,359.2 L68.5,353.46 L69.5,347.65 L70.5,341.54 L71.5,335.27 L72.5,328.39 L73.5,321.71 L74.5,314.92 L75.5,307.91 L76.5,301.11 L77.5,294.49 L78.5,288.1 L79.5,281.85 L80.5,276.29 L81.5,270.92 L82.5,266.33 L83.5,262.15 L84.5,259.06 L85.5,256.46 L86.5,254.76 L87.5,253.93 L88.5,253.93 L89.5,254.32 L90.5,255.51 L91.5,257.4 L92.5,260.06 L93.5,263.15 L94.5,266.9 L95.5,271.13 L96.5,275.76 L97.5,280.54 L98.5,285.61 L99.5,290.7 L100.5,295.96 L101.5,301.27 L102.5,306.43 L103.5,311.56 L104.5,316.5 L105.5,321.12 L106.5,325.34 L107.5,329.4 L108.5,333.06 L109.5,336.52 L110.5,339.59 L111.5,342.44 L112.5,344.86 L113.5,347.3 L114.5,349.29 L115.5,351.04 L116.5,352.22 L117.5,353.33 L118.5,354.04 L119.5,354.76 L120.5,355.11 L121.5,355.88 L122.5,356.39 L123.5,356.6 L124.5,356.59 L125.5,356.68 L126.5,356.45 L127.5,356.27 L128.5,356.53 L129.5,356.82 L130.5,357.44 L131.5,358.09 L132.5,358.87 L133.5,359.4 L134.5,360.09 L135.5,360.43 L136.5,360.84 L137.5,361 L138.5,361.35 L139.5,361.54 L140.5,361.88 L141.5,362.32 L142.5,363.14 L143.5,363.94 L144.5,364.95 L145.5,366.18 L146.5,367.51 L147.5,368.45 L148.5,369.38 L149.5,370.24 L150.5,370.95 L151.5,371.63 L152.5,372.56 L153.5,373.42 L154.5,374.36 L155.5,375.27 L156.5,376.02 L157.5,376.59 L158.5,377.29 L159.5,377.99 L160.5,378.6 L161.5,379.22 L162.5,379.91 L163.5,380.53 L164.5,381.17 L165.5,381.75 L166.5,382.3 L167.5,382.93 L168.5,383.48 L169.5,383.99 L170.5,384.27 L171.5,384.75 L172.5,385.01 L173.5,385.32 L174.5,385.58 L175.5,386.14 L176.5,386.45 L177.5,386.77 L178.5,387.15 L179.5,387.3 L180.5,387.44 L181.5,387.64 L182.5,387.8 L183.5,388.04 L184.5,388.31 L185.5,388.61 L186.5,388.58 L187.5,388.54 L188.5,388.24 L189.5,388.08 L190.5,387.84 L191.5,388.05 L192.5,388.47 L193.5,389.09 L194.5,389.48 L195.5,390.05 L196.5,390.31 L197.5,390.5 L198.5,390.53 L199.5,390.7 L200.5,390.82 L201.5,391.15 L202.5,391.44 L203.5,391.74 L204.5,392.16 L205.5,392.33 L206.5,392.39 L207.5,392.4 L208.5,392.18 L209.5,391.98 L210.5,391.7 L211.5,391.73 L212.5,391.94 L213.5,392.55 L214.5,393 L215.5,393.58 L216.5,393.99 L217.5,394.27 L218.5,394.42 L219.5,394.63 L220.5,394.86 L221.5,394.97 L222.5,395.07 L223.5,395.15 L224.5,394.97 L225.5,394.86 L226.5,394.59 L227.5,394.55 L228.5,394.59 L229.5,394.73 L230.5,395.07 L231.5,395.59 L232.5,395.84 L233.5,396.13 L234.5,396.49 L235.5,396.51 L236.5,396.61 L237.5,396.77 L238.5,396.82 L239.5,396.83 L240.5,397.08 L241.5,397.23 L242.5,397.2 L243.5,397.2 L244.5,397.34 L245.5,397.29 L246.5,397.42 L247.5,397.57 L248.5,397.58 L249.5,397.55 L250.5,397.63 L251.5,397.7 L252.5,397.7 L253.5,397.81 L254.5,397.94 L255.5,397.97 L256.5,397.8" stroke="#000000" stroke-width="2.05"/>
<path d="M6.5,406.4 L7.5,406.4 L8.5,406.39 L9.5,406.39 L10.5,406.38 L11.5,406.37 L12.5,406.37 L13.5,406.36 L14.5,406.35 L15.5,406.34 L16.5,406.34 L17.5,406.33 L18.5,406.32 L19.5,406.31 L20.5,406.3 L21.5,406.29 L22.5,406.28 L23.5,406.27 L24.5,406.25 L25.5,406.24 L26.5,406.23 L27.5,406.21 L28.5,406.19 L29.5,406.17 L30.5,406.15 L31.5,406.13 L32.5,406.11 L33.5,406.08 L34.5,406.04 L35.5,406.01 L36.5,405.96 L37.5,405.91 L38.5,405.85 L39.5,405.78 L40.5,405.69 L41.5,405.58 L42.5,405.46 L43.5,405.3 L44.5,405.12 L45.5,404.89 L46.5,404.62 L47.5,404.29 L48.5,403.89 L49.5,403.41 L50.5,402.84 L51.5,402.15 L52.5,401.34 L53.5,400.38 L54.5,399.25 L55.5,397.93 L56.5,396.4 L57.5,394.63 L58.5,392.6 L59.5,390.29 L60.5,387.66 L61.5,384.71 L62.5,381.41 L63.5,377.74 L64.5,373.7 L65.5,369.28 L66.5,364.48 L67.5,359.3 L68.5,353.77 L69.5,347.9 L70.5,341.73 L71.5,335.3 L72.5,328.65 L73.5,321.85 L74.5,314.96 L75.5,308.05 L76.5,301.21 L77.5,294.52 L78.5,288.06 L79.5,281.92 L80.5,276.2 L81.5,270.96 L82.5,266.31 L83.5,262.29 L84.5,258.98 L85.5,256.43 L86.5,254.67 L87.5,253.72 L88.5,253.55 L89.5,254.14 L90.5,255.45 L91.5,257.46 L92.5,260.1 L93.5,263.33 L94.5,267.08 L95.5,271.27 L96.5,275.83 L97.5,280.67 L98.5,285.72 L99.5,290.9 L100.5,296.14 L101.5,301.36 L102.5,306.51 L103.5,311.52 L104.5,316.35 L105.5,320.95 L106.5,325.28 L107.5,329.33 L108.5,333.08 L109.5,336.5 L110.5,339.61 L111.5,342.39 L112.5,344.86 L113.5,347.03 L114.5,348.92 L115.5,350.54 L116.5,351.92 L117.5,353.08 L118.5,354.04 L119.5,354.84 L120.5,355.49 L121.5,356.02 L122.5,356.45 L123.5,356.8 L124.5,357.1 L125.5,357.35 L126.5,357.58 L127.5,357.8 L128.5,358.02 L129.5,358.25 L130.5,358.51 L131.5,358.79 L132.5,359.11 L133.5,359.47 L134.5,359.86 L135.5,360.31 L136.5,360.79 L137.5,361.32 L138.5,361.89 L139.5,362.5 L140.5,363.15 L141.5,363.84 L142.5,364.56 L143.5,365.3 L144.5,366.07 L145.5,366.87 L146.5,367.68 L147.5,368.5 L148.5,369.34 L149.5,370.18 L150.5,371.02 L151.5,371.86 L152.5,372.69 L153.5,373.51 L154.5,374.33 L155.5,375.12 L156.5,375.9 L157.5,376.66 L158.5,377.4 L159.5,378.12 L160.5,378.81 L161.5,379.47 L162.5,380.11 L163.5,380.71 L164.5,381.29 L165.5,381.85 L166.5,382.37 L167.5,382.87 L168.5,383.34 L169.5,383.78 L170.5,384.2 L171.5,384.59 L172.5,384.96 L173.5,385.31 L174.5,385.64 L175.5,385.95 L176.5,386.24 L177.5,386.51 L178.5,386.77 L179.5,387.02 L180.5,387.25 L181.5,387.47 L182.5,387.69 L183.5,387.89 L184.5,388.09 L185.5,388.29 L186.5,388.48 L187.5,388.67 L188.5,388.85 L189.5,389.03 L190.5,389.22 L191.5,389.4 L192.5,389.58 L193.5,389.76 L194.5,389.95 L195.5,390.13 L196.5,390.32 L197.5,390.51 L198.5,390.7 L199.5,390.9 L200.5,391.09 L201.5,391.29 L202.5,391.49 L203.5,391.68 L204.5,391.88 L205.5,392.08 L206.5,392.28 L207.5,392.48 L208.5,392.68 L209.5,392.88 L210.5,393.08 L211.5,393.28 L212.5,393.47 L213.5,393.66 L214.5,393.85 L215.5,394.03 L216.5,394.22 L217.5,394.4 L218.5,394.57 L219.5,394.74 L220.5,394.91 L221.5,395.07 L222.5,395.22 L223.5,395.38 L224.5,395.52 L225.5,395.66 L226.5,395.8 L227.5,395.93 L228.5,396.05 L229.5,396.17 L230.5,396.29 L231.5,396.4 L232.5,396.5 L233.5,396.6 L234.5,396.69 L235.5,396.78 L236.5,396.87 L237.5,396.95 L238.5,397.02 L239.5,397.09 L240.5,397.16 L241.5,397.22 L242.5,397.28 L243.5,397.33 L244.5,397.38 L245.5,397.43 L246.5,397.47 L247.5,397.51 L248.5,397.55 L249.5,397.59 L250.5,397.62 L251.5,397.65 L252.5,397.68 L253.5,397.7 L254.5,397.73 L255.5,397.75 L256.5,397.77" stroke="#ff0000" stroke-width="2.05"/>
<path d="M6.5,406.6 L7.5,406.6 L8.5,406.6 L9.5,406.6 L10.5,406.6 L11.5,406.6 L12.5,406.6 L13.5,406.6 L14.5,406.6 L15.5,406.6 L16.5,406.6 L17.5,406.6 L18.5,406.6 L19.5,406.6 L20.5,406.6 L21.5,406.6 L22.5,406.6 L23.5,406.59 L24.5,406.59 L25.5,406.59 L26.5,406.59 L27.5,406.59 L28.5,406.59 L29.5,406.59 L30.5,406.59 L31.5,406.59 L32.5,406.59 L33.5,406.59 L34.5,406.59 L35.5,406.59 L36.5,406.59 L37.5,406.59 L38.5,406.59 L39.5,406.59 L40.5,406.59 L41.5,406.58 L42.5,406.58 L43.5,406.58 L44.5,406.58 L45.5,406.58 L46.5,406.58 L47.5,406.57 L48.5,406.57 L49.5,406.57 L50.5,406.56 L51.5,406.56 L52.5,406.55 L53.5,406.55 L54.5,406.54 L55.5,406.53 L56.5,406.52 L57.5,406.51 L58.5,406.49 L59.5,406.47 L60.5,406.45 L61.5,406.43 L62.5,406.4 L63.5,406.37 L64.5,406.33 L65.5,406.29 L66.5,406.24 L67.5,406.19 L68.5,406.13 L69.5,406.06 L70.5,405.99 L71.5,405.91 L72.5,405.82 L73.5,405.72 L74.5,405.62 L75.5,405.51 L76.5,405.39 L77.5,405.26 L78.5,405.13 L79.5,404.99 L80.5,404.84 L81.5,404.68 L82.5,404.53 L83.5,404.36 L84.5,404.2 L85.5,404.03 L86.5,403.86 L87.5,403.69 L88.5,403.51 L89.5,403.34 L90.5,403.17 L91.5,403.01 L92.5,402.84 L93.5,402.69 L94.5,402.53 L95.5,402.38 L96.5,402.24 L97.5,402.1 L98.5,401.97 L99.5,401.84 L100.5,401.72 L101.5,401.61 L102.5,401.5 L103.5,401.4 L104.5,401.3 L105.5,401.21 L106.5,401.12 L107.5,401.04 L108.5,400.97 L109.5,400.89 L110.5,400.82 L111.5,400.76 L112.5,400.7 L113.5,400.64 L114.5,400.58 L115.5,400.52 L116.5,400.47 L117.5,400.41 L118.5,400.36 L119.5,400.31 L120.5,400.26 L121.5,400.21 L122.5,400.16 L123.5,400.11 L124.5,400.07 L125.5,400.02 L126.5,399.97 L127.5,399.92 L128.5,399.88 L129.5,399.83 L130.5,399.78 L131.5,399.74 L132.5,399.69 L133.5,399.64 L134.5,399.6 L135.5,399.55 L136.5,399.51 L137.5,399.47 L138.5,399.42 L139.5,399.38 L140.5,399.34 L141.5,399.3 L142.5,399.26 L143.5,399.22 L144.5,399.18 L145.5,399.15 L146.5,399.11 L147.5,399.08 L148.5,399.04 L149.5,399.01 L150.5,398.98 L151.5,398.94 L152.5,398.91 L153.5,398.89 L154.5,398.86 L155.5,398.83 L156.5,398.8 L157.5,398.78 L158.5,398.75 L159.5,398.73 L160.5,398.71 L161.5,398.68 L162.5,398.66 L163.5,398.64 L164.5,398.62 L165.5,398.6 L166.5,398.58 L167.5,398.57 L168.5,398.55 L169.5,398.53 L170.5,398.52 L171.5,398.5 L172.5,398.48 L173.5,398.47 L174.5,398.45 L175.5,398.44 L176.5,398.42 L177.5,398.41 L178.5,398.4 L179.5,398.38 L180.5,398.37 L181.5,398.36 L182.5,398.35 L183.5,398.33 L184.5,398.32 L185.5,398.31 L186.5,398.3 L187.5,398.29 L188.5,398.28 L189.5,398.27 L190.5,398.26 L191.5,398.25 L192.5,398.24 L193.5,398.23 L194.5,398.22 L195.5,398.21 L196.5,398.2 L197.5,398.19 L198.5,398.18 L199.5,398.17 L200.5,398.16 L201.5,398.16 L202.5,398.15 L203.5,398.14 L204.5,398.13 L205.5,398.13 L206.5,398.12 L207.5,398.11 L208.5,398.11 L209.5,398.1 L210.5,398.1 L211.5,398.09 L212.5,398.08 L213.5,398.08 L214.5,398.07 L215.5,398.07 L216.5,398.07 L217.5,398.06 L218.5,398.06 L219.5,398.05 L220.5,398.05 L221.5,398.05 L222.5,398.04 L223.5,398.04 L224.5,398.04 L225.5,398.03 L226.5,398.03 L227.5,398.03 L228.5,398.03 L229.5,398.02 L230.5,398.02 L231.5,398.02 L232.5,398.02 L233.5,398.02 L234.5,398.02 L235.5,398.01 L236.5,398.01 L237.5,398.01 L238.5,398.01 L239.5,398.01 L240.5,398.01 L241.5,398.01 L242.5,398.01 L243.5,398.01 L244.5,398.01 L245.5,398 L246.5,398 L247.5,398 L248.5,398 L249.5,398 L250.5,398 L251.5,398 L252.5,398 L253.5,398 L254.5,398 L255.5,398 L256.5,398" stroke="#0000ff" stroke-width="2.05"/>
<path d="M6.5,406.4 L7.5,406.4 L8.5,406.39 L9.5,406.39 L10.5,406.38 L11.5,406.38 L12.5,406.37 L13.5,406.36 L14.5,406.36 L15.5,406.35 L16.5,406.34 L17.5,406.34 L18.5,406.33 L19.5,406.32 L20.5,406.31 L21.5,406.3 L22.5,406.3 L23.5,406.29 L24.5,406.28 L25.5,406.27 L26.5,406.25 L27.5,406.24 L28.5,406.23 L29.5,406.21 L30.5,406.2 L31.5,406.18 L32.5,406.16 L33.5,406.14 L34.5,406.11 L35.5,406.09 L36.5,406.05 L37.5,406.01 L38.5,405.96 L39.5,405.9 L40.5,405.83 L41.5,405.74 L42.5,405.62 L43.5,405.49 L44.5,405.32 L45.5,405.12 L46.5,404.87 L47.5,404.57 L48.5,404.2 L49.5,403.75 L50.5,403.21 L51.5,402.57 L52.5,401.79 L53.5,400.88 L54.5,399.8 L55.5,398.54 L56.5,397.07 L57.5,395.37 L58.5,393.41 L59.5,391.17 L60.5,388.63 L61.5,385.77 L62.5,382.57 L63.5,379.01 L64.5,375.09 L65.5,370.8 L66.5,366.15 L67.5,361.13 L68.5,355.76 L69.5,350.07 L70.5,344.1 L71.5,337.88 L72.5,331.46 L73.5,324.91 L74.5,318.28 L75.5,311.66 L76.5,305.13 L77.5,298.77 L78.5,292.66 L79.5,286.9 L80.5,281.58 L81.5,276.78 L82.5,272.58 L83.5,269.05 L84.5,266.26 L85.5,264.25 L86.5,263.07 L87.5,262.72 L88.5,263.19 L89.5,264.44 L90.5,266.45 L91.5,269.19 L92.5,272.6 L93.5,276.62 L94.5,281.19 L95.5,286.23 L96.5,291.66 L97.5,297.41 L98.5,303.38 L99.5,309.51 L100.5,315.71 L101.5,321.92 L102.5,328.06 L103.5,334.08 L104.5,339.92 L105.5,345.53 L106.5,350.89 L107.5,355.95 L108.5,360.7 L109.5,365.12 L110.5,369.2 L111.5,372.94 L112.5,376.34 L113.5,379.42 L114.5,382.18 L115.5,384.63 L116.5,386.8 L117.5,388.71 L118.5,390.37 L119.5,391.82 L120.5,393.06 L121.5,394.11 L122.5,395.01 L123.5,395.77 L124.5,396.4 L125.5,396.92 L126.5,397.35 L127.5,397.7 L128.5,397.99 L129.5,398.21 L130.5,398.39 L131.5,398.53 L132.5,398.63 L133.5,398.71 L134.5,398.77 L135.5,398.81 L136.5,398.83 L137.5,398.84 L138.5,398.85 L139.5,398.84 L140.5,398.84 L141.5,398.82 L142.5,398.81 L143.5,398.79 L144.5,398.77 L145.5,398.75 L146.5,398.73 L147.5,398.71 L148.5,398.69 L149.5,398.67 L150.5,398.64 L151.5,398.62 L152.5,398.6 L153.5,398.58 L154.5,398.56 L155.5,398.54 L156.5,398.53 L157.5,398.51 L158.5,398.49 L159.5,398.47 L160.5,398.46 L161.5,398.44 L162.5,398.43 L163.5,398.41 L164.5,398.4 L165.5,398.38 L166.5,398.37 L167.5,398.36 L168.5,398.34 L169.5,398.33 L170.5,398.32 L171.5,398.31 L172.5,398.3 L173.5,398.29 L174.5,398.28 L175.5,398.26 L176.5,398.25 L177.5,398.24 L178.5,398.23 L179.5,398.22 L180.5,398.21 L181.5,398.21 L182.5,398.2 L183.5,398.19 L184.5,398.18 L185.5,398.17 L186.5,398.16 L187.5,398.15 L188.5,398.14 L189.5,398.14 L190.5,398.13 L191.5,398.12 L192.5,398.11 L193.5,398.1 L194.5,398.1 L195.5,398.09 L196.5,398.08 L197.5,398.08 L198.5,398.07 L199.5,398.06 L200.5,398.06 L201.5,398.05 L202.5,398.04 L203.5,398.04 L204.5,398.03 L205.5,398.03 L206.5,398.02 L207.5,398.02 L208.5,398.01 L209.5,398.01 L210.5,398 L211.5,398 L212.5,398 L213.5,397.99 L214.5,397.99 L215.5,397.99 L216.5,397.98 L217.5,397.98 L218.5,397.98 L219.5,397.97 L220.5,397.97 L221.5,397.97 L222.5,397.97 L223.5,397.97 L224.5,397.96 L225.5,397.96 L226.5,397.96 L227.5,397.96 L228.5,397.96 L229.5,397.96 L230.5,397.96 L231.5,397.95 L232.5,397.95 L233.5,397.95 L234.5,397.95 L235.5,397.95 L236.5,397.95 L237.5,397.95 L238.5,397.95 L239.5,397.95 L240.5,397.95 L241.5,397.95 L242.5,397.95 L243.5,397.95 L244.5,397.95 L245.5,397.95 L246.5,397.95 L247.5,397.95 L248.5,397.95 L249.5,397.95 L250.5,397.95 L251.5,397.95 L252.5,397.95 L253.5,397.95 L254.5,397.95 L255.5,397.95 L256.5,397.95" stroke="#008080" stroke-width="2.05"/>
<path d="M6.5,406.6 L7.5,406.6 L8.5,406.6 L9.5,406.6 L10.5,406.6 L11.5,406.6 L12.5,406.6 L13.5,406.6 L14.5,406.6 L15.5,406.6 L16.5,406.6 L17.5,406.6 L18.5,406.6 L19.5,406.6 L20.5,406.6 L21.5,406.6 L22.5,406.59 L23.5,406.59 L24.5,406.59 L25.5,406.59 L26.5,406.59 L27.5,406.59 L28.5,406.59 L29.5,406.59 L30.5,406.59 L31.5,406.59 L32.5,406.59 L33.5,406.59 L34.5,406.58 L35.5,406.58 L36.5,406.58 L37.5,406.58 L38.5,406.57 L39.5,406.57 L40.5,406.57 L41.5,406.56 L42.5,406.56 L43.5,406.55 L44.5,406.54 L45.5,406.54 L46.5,406.53 L47.5,406.52 L48.5,406.5 L49.5,406.49 L50.5,406.47 L51.5,406.45 L52.5,406.43 L53.5,406.4 L54.5,406.37 L55.5,406.33 L56.5,406.29 L57.5,406.24 L58.5,406.19 L59.5,406.13 L60.5,406.06 L61.5,405.97 L62.5,405.88 L63.5,405.78 L64.5,405.66 L65.5,405.53 L66.5,405.39 L67.5,405.22 L68.5,405.04 L69.5,404.84 L70.5,404.62 L71.5,404.37 L72.5,404.1 L73.5,403.81 L74.5,403.48 L75.5,403.14 L76.5,402.76 L77.5,402.35 L78.5,401.91 L79.5,401.44 L80.5,400.93 L81.5,400.4 L82.5,399.83 L83.5,399.22 L84.5,398.58 L85.5,397.91 L86.5,397.2 L87.5,396.46 L88.5,395.69 L89.5,394.88 L90.5,394.05 L91.5,393.18 L92.5,392.28 L93.5,391.35 L94.5,390.4 L95.5,389.42 L96.5,388.42 L97.5,387.39 L98.5,386.34 L99.5,385.28 L100.5,384.2 L101.5,383.11 L102.5,382.01 L103.5,380.9 L104.5,379.79 L105.5,378.67 L106.5,377.56 L107.5,376.46 L108.5,375.37 L109.5,374.29 L110.5,373.23 L111.5,372.19 L112.5,371.19 L113.5,370.21 L114.5,369.27 L115.5,368.36 L116.5,367.51 L117.5,366.7 L118.5,365.94 L119.5,365.23 L120.5,364.59 L121.5,364.01 L122.5,363.49 L123.5,363.04 L124.5,362.66 L125.5,362.35 L126.5,362.12 L127.5,361.96 L128.5,361.88 L129.5,361.87 L130.5,361.93 L131.5,362.07 L132.5,362.28 L133.5,362.57 L134.5,362.93 L135.5,363.35 L136.5,363.84 L137.5,364.39 L138.5,365 L139.5,365.66 L140.5,366.38 L141.5,367.14 L142.5,367.95 L143.5,368.79 L144.5,369.67 L145.5,370.58 L146.5,371.52 L147.5,372.47 L148.5,373.44 L149.5,374.43 L150.5,375.42 L151.5,376.41 L152.5,377.4 L153.5,378.39 L154.5,379.37 L155.5,380.33 L156.5,381.28 L157.5,382.22 L158.5,383.13 L159.5,384.02 L160.5,384.89 L161.5,385.72 L162.5,386.53 L163.5,387.31 L164.5,388.06 L165.5,388.77 L166.5,389.46 L167.5,390.11 L168.5,390.72 L169.5,391.31 L170.5,391.86 L171.5,392.38 L172.5,392.87 L173.5,393.33 L174.5,393.75 L175.5,394.15 L176.5,394.52 L177.5,394.86 L178.5,395.18 L179.5,395.47 L180.5,395.74 L181.5,395.99 L182.5,396.21 L183.5,396.42 L184.5,396.61 L185.5,396.78 L186.5,396.93 L187.5,397.07 L188.5,397.19 L189.5,397.3 L190.5,397.4 L191.5,397.49 L192.5,397.57 L193.5,397.64 L194.5,397.7 L195.5,397.76 L196.5,397.8 L197.5,397.84 L198.5,397.88 L199.5,397.91 L200.5,397.94 L201.5,397.96 L202.5,397.98 L203.5,397.99 L204.5,398.01 L205.5,398.02 L206.5,398.03 L207.5,398.03 L208.5,398.04 L209.5,398.04 L210.5,398.05 L211.5,398.05 L212.5,398.05 L213.5,398.05 L214.5,398.05 L215.5,398.05 L216.5,398.05 L217.5,398.05 L218.5,398.04 L219.5,398.04 L220.5,398.04 L221.5,398.04 L222.5,398.04 L223.5,398.03 L224.5,398.03 L225.5,398.03 L226.5,398.03 L227.5,398.03 L228.5,398.02 L229.5,398.02 L230.5,398.02 L231.5,398.02 L232.5,398.02 L233.5,398.02 L234.5,398.02 L235.5,398.01 L236.5,398.01 L237.5,398.01 L238.5,398.01 L239.5,398.01 L240.5,398.01 L241.5,398.01 L242.5,398.01 L243.5,398.01 L244.5,398.01 L245.5,398 L246.5,398 L247.5,398 L248.5,398 L249.5,398 L250.5,398 L251.5,398 L252.5,398 L253.5,398 L254.5,398 L255.5,398 L256.5,398" stroke="#000080" stroke-width="2.05"/>
<path d="M6.5,406.6 L7.5,406.6 L8.5,406.6 L9.5,406.6 L10.5,406.6 L11.5,406.6 L12.5,406.6 L13.5,406.6 L14.5,406.6 L15.5,406.6 L16.5,406.6 L17.5,406.6 L18.5,406.6 L19.5,406.6 L20.5,406.6 L21.5,406.6 L22.5,406.6 L23.5,406.59 L24.5,406.59 L25.5,406.59 L26.5,406.59 L27.5,406.59 L28.5,406.59 L29.5,406.59 L30.5,406.59 L31.5,406.59 L32.5,406.59 L33.5,406.59 L34.5,406.59 L35.5,406.59 L36.5,406.59 L37.5,406.59 L38.5,406.59 L39.5,406.59 L40.5,406.59 L41.5,406.58 L42.5,406.58 L43.5,406.58 L44.5,406.58 L45.5,406.58 L46.5,406.58 L47.5,406.57 L48.5,406.57 L49.5,406.57 L50.5,406.56 L51.5,406.56 L52.5,406.55 L53.5,406.55 L54.5,406.54 L55.5,406.53 L56.5,406.52 L57.5,406.51 L58.5,406.49 L59.5,406.47 L60.5,406.45 L61.5,406.43 L62.5,406.4 L63.5,406.37 L64.5,406.33 L65.5,406.29 L66.5,406.24 L67.5,406.19 L68.5,406.13 L69.5,406.06 L70.5,405.99 L71.5,405.9 L72.5,405.82 L73.5,405.72 L74.5,405.62 L75.5,405.5 L76.5,405.39 L77.5,405.26 L78.5,405.12 L79.5,404.98 L80.5,404.83 L81.5,404.68 L82.5,404.52 L83.5,404.36 L84.5,404.19 L85.5,404.02 L86.5,403.85 L87.5,403.68 L88.5,403.5 L89.5,403.33 L90.5,403.16 L91.5,402.99 L92.5,402.83 L93.5,402.66 L94.5,402.51 L95.5,402.35 L96.5,402.2 L97.5,402.06 L98.5,401.92 L99.5,401.79 L100.5,401.67 L101.5,401.55 L102.5,401.43 L103.5,401.32 L104.5,401.21 L105.5,401.11 L106.5,401.02 L107.5,400.92 L108.5,400.83 L109.5,400.74 L110.5,400.66 L111.5,400.57 L112.5,400.49 L113.5,400.41 L114.5,400.32 L115.5,400.24 L116.5,400.16 L117.5,400.07 L118.5,399.99 L119.5,399.9 L120.5,399.81 L121.5,399.71 L122.5,399.62 L123.5,399.52 L124.5,399.41 L125.5,399.31 L126.5,399.2 L127.5,399.08 L128.5,398.96 L129.5,398.84 L130.5,398.71 L131.5,398.58 L132.5,398.45 L133.5,398.3 L134.5,398.16 L135.5,398.01 L136.5,397.85 L137.5,397.69 L138.5,397.53 L139.5,397.36 L140.5,397.18 L141.5,397.01 L142.5,396.82 L143.5,396.64 L144.5,396.44 L145.5,396.25 L146.5,396.05 L147.5,395.85 L148.5,395.64 L149.5,395.43 L150.5,395.22 L151.5,395.01 L152.5,394.79 L153.5,394.58 L154.5,394.36 L155.5,394.14 L156.5,393.93 L157.5,393.71 L158.5,393.49 L159.5,393.28 L160.5,393.07 L161.5,392.86 L162.5,392.65 L163.5,392.45 L164.5,392.26 L165.5,392.07 L166.5,391.88 L167.5,391.7 L168.5,391.53 L169.5,391.37 L170.5,391.21 L171.5,391.06 L172.5,390.93 L173.5,390.8 L174.5,390.68 L175.5,390.57 L176.5,390.48 L177.5,390.39 L178.5,390.32 L179.5,390.26 L180.5,390.21 L181.5,390.17 L182.5,390.15 L183.5,390.14 L184.5,390.14 L185.5,390.15 L186.5,390.17 L187.5,390.21 L188.5,390.26 L189.5,390.32 L190.5,390.39 L191.5,390.47 L192.5,390.57 L193.5,390.67 L194.5,390.78 L195.5,390.9 L196.5,391.03 L197.5,391.17 L198.5,391.32 L199.5,391.47 L200.5,391.63 L201.5,391.79 L202.5,391.96 L203.5,392.13 L204.5,392.31 L205.5,392.49 L206.5,392.67 L207.5,392.85 L208.5,393.04 L209.5,393.22 L210.5,393.41 L211.5,393.59 L212.5,393.78 L213.5,393.96 L214.5,394.14 L215.5,394.32 L216.5,394.49 L217.5,394.66 L218.5,394.83 L219.5,394.99 L220.5,395.15 L221.5,395.31 L222.5,395.46 L223.5,395.6 L224.5,395.74 L225.5,395.88 L226.5,396.01 L227.5,396.13 L228.5,396.25 L229.5,396.37 L230.5,396.48 L231.5,396.58 L232.5,396.68 L233.5,396.77 L234.5,396.86 L235.5,396.95 L236.5,397.03 L237.5,397.1 L238.5,397.17 L239.5,397.24 L240.5,397.3 L241.5,397.36 L242.5,397.41 L243.5,397.46 L244.5,397.51 L245.5,397.55 L246.5,397.59 L247.5,397.63 L248.5,397.66 L249.5,397.69 L250.5,397.72 L251.5,397.75 L252.5,397.77 L253.5,397.79 L254.5,397.81 L255.5,397.83 L256.5,397.85" stroke="#ff0080" stroke-width="2.05"/>
<path d="M6.5,406.6 L7.5,406.6 L8.5,406.6 L9.5,406.6 L10.5,406.6 L11.5,406.6 L12.5,406.6 L13.5,406.6 L14.5,406.6 L15.5,406.6 L16.5,406.6 L17.5,406.6 L18.5,406.6 L19.5,406.6 L20.5,406.6 L21.5,406.6 L22.5,406.6 L23.5,406.59 L24.5,406.59 L25.5,406.59 L26.5,406.59 L27.5,406.59 L28.5,406.59 L29.5,406.59 L30.5,406.59 L31.5,406.59 L32.5,406.59 L33.5,406.59 L34.5,406.59 L35.5,406.59 L36.5,406.59 L37.5,406.59 L38.5,406.59 L39.5,406.59 L40.5,406.59 L41.5,406.58 L42.5,406.58 L43.5,406.58 L44.5,406.58 L45.5,406.58 L46.5,406.58 L47.5,406.57 L48.5,406.57 L49.5,406.57 L50.5,406.56 L51.5,406.56 L52.5,406.55 L53.5,406.55 L54.5,406.54 L55.5,406.53 L56.5,406.52 L57.5,406.51 L58.5,406.49 L59.5,406.47 L60.5,406.45 L61.5,406.43 L62.5,406.4 L63.5,406.37 L64.5,406.33 L65.5,406.29 L66.5,406.24 L67.5,406.19 L68.5,406.13 L69.5,406.06 L70.5,405.99 L71.5,405.91 L72.5,405.82 L73.5,405.72 L74.5,405.62 L75.5,405.51 L76.5,405.39 L77.5,405.26 L78.5,405.13 L79.5,404.99 L80.5,404.84 L81.5,404.68 L82.5,404.53 L83.5,404.36 L84.5,404.2 L85.5,404.03 L86.5,403.86 L87.5,403.69 L88.5,403.51 L89.5,403.34 L90.5,403.17 L91.5,403.01 L92.5,402.84 L93.5,402.68 L94.5,402.53 L95.5,402.38 L96.5,402.24 L97.5,402.1 L98.5,401.97 L99.5,401.84 L100.5,401.72 L101.5,401.6 L102.5,401.5 L103.5,401.39 L104.5,401.3 L105.5,401.21 L106.5,401.12 L107.5,401.04 L108.5,400.96 L109.5,400.89 L110.5,400.82 L111.5,400.76 L112.5,400.69 L113.5,400.63 L114.5,400.57 L115.5,400.52 L116.5,400.46 L117.5,400.41 L118.5,400.36 L119.5,400.31 L120.5,400.26 L121.5,400.21 L122.5,400.16 L123.5,400.11 L124.5,400.06 L125.5,400.01 L126.5,399.96 L127.5,399.91 L128.5,399.86 L129.5,399.82 L130.5,399.77 L131.5,399.72 L132.5,399.67 L133.5,399.63 L134.5,399.58 L135.5,399.53 L136.5,399.49 L137.5,399.44 L138.5,399.4 L139.5,399.36 L140.5,399.31 L141.5,399.27 L142.5,399.23 L143.5,399.19 L144.5,399.15 L145.5,399.11 L146.5,399.07 L147.5,399.03 L148.5,399 L149.5,398.96 L150.5,398.92 L151.5,398.89 L152.5,398.86 L153.5,398.83 L154.5,398.79 L155.5,398.76 L156.5,398.73 L157.5,398.7 L158.5,398.68 L159.5,398.65 L160.5,398.62 L161.5,398.6 L162.5,398.57 L163.5,398.55 L164.5,398.52 L165.5,398.5 L166.5,398.48 L167.5,398.46 L168.5,398.43 L169.5,398.41 L170.5,398.39 L171.5,398.37 L172.5,398.35 L173.5,398.33 L174.5,398.31 L175.5,398.3 L176.5,398.28 L177.5,398.26 L178.5,398.24 L179.5,398.23 L180.5,398.21 L181.5,398.19 L182.5,398.18 L183.5,398.16 L184.5,398.15 L185.5,398.13 L186.5,398.12 L187.5,398.11 L188.5,398.09 L189.5,398.08 L190.5,398.07 L191.5,398.05 L192.5,398.04 L193.5,398.03 L194.5,398.02 L195.5,398.01 L196.5,398 L197.5,397.99 L198.5,397.98 L199.5,397.97 L200.5,397.96 L201.5,397.96 L202.5,397.95 L203.5,397.94 L204.5,397.94 L205.5,397.93 L206.5,397.92 L207.5,397.92 L208.5,397.92 L209.5,397.91 L210.5,397.91 L211.5,397.9 L212.5,397.9 L213.5,397.9 L214.5,397.9 L215.5,397.89 L216.5,397.89 L217.5,397.89 L218.5,397.89 L219.5,397.89 L220.5,397.89 L221.5,397.89 L222.5,397.89 L223.5,397.89 L224.5,397.89 L225.5,397.89 L226.5,397.9 L227.5,397.9 L228.5,397.9 L229.5,397.9 L230.5,397.9 L231.5,397.91 L232.5,397.91 L233.5,397.91 L234.5,397.91 L235.5,397.92 L236.5,397.92 L237.5,397.92 L238.5,397.92 L239.5,397.93 L240.5,397.93 L241.5,397.93 L242.5,397.93 L243.5,397.94 L244.5,397.94 L245.5,397.94 L246.5,397.94 L247.5,397.95 L248.5,397.95 L249.5,397.95 L250.5,397.95 L251.5,397.96 L252.5,397.96 L253.5,397.96 L254.5,397.96 L255.5,397.96 L256.5,397.97" stroke="#008000" stroke-width="2.05"/>
</g>
<rect x="5.8" y="238.7" width="251.45" height="181.90000000000003" fill="none" stroke="#000" stroke-width="1.5"/>
<line x1="28.60" y1="420.6" x2="28.60" y2="424.1" stroke="#111" stroke-width="1.2"/>
<text x="29.25" y="438.2" class="tk" text-anchor="middle" style="font-size:14.3px;letter-spacing:1.3px">282</text>
<line x1="74.33" y1="420.6" x2="74.33" y2="424.1" stroke="#111" stroke-width="1.2"/>
<text x="74.98" y="438.2" class="tk" text-anchor="middle" style="font-size:14.3px;letter-spacing:1.3px">284</text>
<line x1="120.06" y1="420.6" x2="120.06" y2="424.1" stroke="#111" stroke-width="1.2"/>
<text x="120.71" y="438.2" class="tk" text-anchor="middle" style="font-size:14.3px;letter-spacing:1.3px">286</text>
<line x1="165.79" y1="420.6" x2="165.79" y2="424.1" stroke="#111" stroke-width="1.2"/>
<text x="166.44" y="438.2" class="tk" text-anchor="middle" style="font-size:14.3px;letter-spacing:1.3px">288</text>
<line x1="211.52" y1="420.6" x2="211.52" y2="424.1" stroke="#111" stroke-width="1.2"/>
<text x="212.17" y="438.2" class="tk" text-anchor="middle" style="font-size:14.3px;letter-spacing:1.3px">290</text>
<line x1="257.25" y1="420.6" x2="257.25" y2="424.1" stroke="#111" stroke-width="1.2"/>
<text x="257.90" y="438.2" class="tk" text-anchor="middle" style="font-size:14.3px;letter-spacing:1.3px">292</text>
<line x1="5.74" y1="420.6" x2="5.74" y2="422.8" stroke="#111" stroke-width="1.2"/>
<line x1="51.47" y1="420.6" x2="51.47" y2="422.8" stroke="#111" stroke-width="1.2"/>
<line x1="97.19" y1="420.6" x2="97.19" y2="422.8" stroke="#111" stroke-width="1.2"/>
<line x1="142.92" y1="420.6" x2="142.92" y2="422.8" stroke="#111" stroke-width="1.2"/>
<line x1="188.65" y1="420.6" x2="188.65" y2="422.8" stroke="#111" stroke-width="1.2"/>
<line x1="234.38" y1="420.6" x2="234.38" y2="422.8" stroke="#111" stroke-width="1.2"/>
<text transform="translate(15.2,259.2) scale(0.92,1)" class="pl" style="font-size:17.5px">c</text>
<text x="57" y="457.3" class="ax" style="font-size:14px;letter-spacing:0.92px">Binding Energy <tspan style="font-size:9px" dy="1">(</tspan><tspan dy="-1">eV</tspan><tspan style="font-size:9px" dy="1">)</tspan></text>
<line x1="168.2" y1="248.00" x2="190.5" y2="248.00" stroke="#000000" stroke-width="2.2"/>
<text x="195.4" y="250.70" class="lg" style="font-size:9px;letter-spacing:0.45px">Experimental</text>
<line x1="168.2" y1="258.90" x2="190.5" y2="258.90" stroke="#ff0000" stroke-width="2.2"/>
<text x="195.4" y="261.60" class="lg" style="font-size:9px;letter-spacing:0.45px">Fitting</text>
<line x1="168.2" y1="269.80" x2="190.5" y2="269.80" stroke="#0000ff" stroke-width="2.2"/>
<text x="195.4" y="272.50" class="lg" style="font-size:9px;letter-spacing:0.45px">Background</text>
<line x1="168.2" y1="280.70" x2="190.5" y2="280.70" stroke="#008080" stroke-width="2.2"/>
<text x="195.4" y="283.40" class="lg" style="font-size:9px;letter-spacing:0.45px">C-C/ C=C</text>
<line x1="168.2" y1="291.60" x2="190.5" y2="291.60" stroke="#000080" stroke-width="2.2"/>
<text x="195.4" y="294.30" class="lg" style="font-size:9px;letter-spacing:0.45px">C-O/ C-O-C</text>
<line x1="168.2" y1="302.50" x2="190.5" y2="302.50" stroke="#ff0080" stroke-width="2.2"/>
<text x="195.4" y="305.20" class="lg" style="font-size:9px;letter-spacing:0.45px">C=O</text>
<line x1="168.2" y1="313.40" x2="190.5" y2="313.40" stroke="#008000" stroke-width="2.2"/>
<text x="195.4" y="316.10" class="lg" style="font-size:9px;letter-spacing:0.45px">O=C-OH</text>
<g clip-path="url(#cd)" fill="none" stroke-linejoin="round">
<path d="M279.3,400.94 L279.8,401.12 L280.3,401.13 L280.8,401.04 L281.3,400.96 L281.8,401.17 L282.3,401.3 L282.8,401.55 L283.02,401.36 L283.3,401.59 L283.65,401.6 L283.8,401.9 L284.1,401.81 L284.3,401.84 L284.55,401.89 L284.8,402.05 L285.18,402.18 L285.3,402.16 L285.8,402.3 L286.3,402.42 L286.8,402.51 L287.3,402.73 L287.8,403.01 L288.3,403.24 L288.8,403.38 L289.3,403.65 L289.8,403.95 L290.3,404.07 L290.8,404.26 L290.86,404.48 L291.3,404.71 L291.35,404.65 L291.7,404.67 L291.8,404.79 L292.05,404.88 L292.3,404.95 L292.54,405.02 L292.8,405.08 L293.3,405.03 L293.8,405.04 L294.3,405.16 L294.8,405.42 L295.3,405.33 L295.8,405.32 L296.3,405.2 L296.8,405.23 L297.3,405.39 L297.8,405.61 L298.3,405.79 L298.8,405.99 L299.3,406.1 L299.8,406.32 L300.3,406.3 L300.8,406.39 L301.3,406.27 L301.8,406.37 L302.3,406.41 L302.8,406.44 L303.3,406.49 L303.8,406.48 L304.3,406.81 L304.8,406.8 L305.3,406.9 L305.8,406.93 L306.3,406.96 L306.8,407.09 L307.3,407.12 L307.8,407.33 L308.3,407.29 L308.8,407.48 L309.3,407.56 L309.8,407.66 L310.3,407.69 L310.8,407.83 L311.18,408.08 L311.3,407.88 L311.6,407.88 L311.8,407.78 L311.9,407.95 L312.2,407.81 L312.3,407.9 L312.62,407.84 L312.8,408.03 L313.3,408.12 L313.8,408.17 L314.3,408.17 L314.8,407.99 L315.3,408.26 L315.8,408.52 L316.3,408.92 L316.8,408.79 L317.3,408.64 L317.8,408.56 L318.3,408.94 L318.8,409.08 L319.3,408.96 L319.8,408.86 L320.3,408.85 L320.8,408.93 L321.3,408.85 L321.8,408.91 L322.3,408.98 L322.8,409.07 L323.3,409.03 L323.8,408.88 L324.3,408.86 L324.8,409.02 L325.3,409.15 L325.8,409.07 L326.3,409.1 L326.8,409.18 L327.3,409.55 L327.8,409.44 L328.3,409.35 L328.8,409.01 L329.3,409.15 L329.8,409.47 L330.3,409.54 L330.8,409.36 L331.3,409.17 L331.8,409.18 L332.3,409.23 L332.8,409.14 L333.3,409.26 L333.8,409.4 L334.3,409.45 L334.8,409.53 L335.3,409.39 L335.8,409.43 L336.3,409.14 L336.8,409.05 L337.3,409.11 L337.78,409.28 L337.8,409.48 L338.3,409.47 L338.55,409.67 L338.8,409.7 L339.1,409.76 L339.3,409.62 L339.65,409.48 L339.8,409.32 L340.3,409.3 L340.42,409.26 L340.8,409.29 L341.3,409.36 L341.8,409.52 L342.3,409.56 L342.8,409.4 L343.3,409.39 L343.8,409.47 L344.3,409.79 L344.8,409.88 L345.3,409.81 L345.8,409.65 L346.3,409.81 L346.8,409.97 L347.3,410.24 L347.8,410.27 L348.3,410.12 L348.8,409.99 L349.3,409.83 L349.8,409.98 L350.3,410.01 L350.8,410 L351.3,409.97 L351.8,409.78 L352.3,409.75 L352.8,409.67 L353.3,409.85 L353.8,409.83 L354.3,409.97 L354.8,410.05 L355.3,410.14 L355.8,410.12 L356.3,410.05 L356.8,409.98 L357.3,409.94 L357.8,409.88 L358.3,409.97 L358.8,409.99 L359.3,410.1 L359.8,409.93 L360.26,410.01 L360.3,409.87 L360.69,409.93 L360.8,409.82 L361,409.83 L361.3,409.93 L361.31,409.89 L361.74,409.83 L361.8,409.71 L362.3,409.88 L362.8,409.97 L363.3,409.91 L363.8,409.75 L364.3,409.56 L364.8,409.83 L365.3,409.64 L365.8,409.8 L366.3,409.64 L366.8,409.61 L367.3,409.55 L367.8,409.55 L368.3,409.7 L368.8,409.65 L369.3,409.6 L369.8,409.52 L370.3,409.48 L370.8,409.33 L371.3,409.33 L371.8,409.16 L372.3,409.2 L372.8,409.05 L373.3,408.99 L373.8,408.9 L374.3,409.08 L374.8,409.24 L375.3,409.11 L375.8,408.97 L376.3,408.79 L376.8,408.79 L377.3,408.68 L377.8,408.45 L378.3,408.44 L378.8,408.28 L379.3,408.4 L379.8,408.18 L380.3,408.09 L380.8,408.02 L381.3,408.2 L381.8,408.46 L382.3,408.51 L382.8,408.48 L383.3,408.23 L383.8,407.99 L384.3,407.84 L384.8,407.85 L385.3,407.94 L385.54,407.93 L385.8,407.91 L385.93,407.85 L386.2,407.64 L386.3,407.55 L386.48,407.59 L386.8,407.66 L386.86,407.78 L387.3,407.91 L387.8,407.84 L388.3,407.74 L388.8,407.59 L389.3,407.63 L389.8,407.59 L390.3,407.38 L390.8,407.3 L391.3,407.31 L391.8,407.34 L392.3,407.12 L392.8,406.88 L393.3,406.83 L393.8,406.83 L394.3,406.6 L394.8,406.52 L395.3,406.25 L395.8,406.24 L396.3,405.97 L396.8,405.85 L397.3,405.8 L397.8,405.71 L398.3,405.58 L398.8,405.38 L399.3,405.14 L399.8,404.87 L400.3,404.52 L400.8,404.34 L401.3,404.34 L401.8,404.15 L402.3,403.86 L402.8,403.58 L403.3,403.3 L403.8,403.19 L404.3,402.96 L404.8,402.85 L405.3,402.67 L405.8,402.49 L406.3,402.38 L406.8,402.48 L407.3,402.64 L407.8,402.7 L408.3,402.6 L408.8,402.55 L409.3,402.63 L409.8,402.55 L410.3,402.65 L410.8,402.48 L411.3,402.7 L411.8,402.62 L412.3,402.6 L412.8,402.34 L413.3,402.19 L413.8,402.14 L414.3,401.77 L414.8,401.54 L415.3,401.54 L415.8,401.17 L416.3,400.79 L416.8,400.02 L417.3,399.8 L417.8,399.24 L418.3,398.8 L418.8,398.45 L419.3,398.23 L419.8,398.08 L420.3,397.5 L420.8,397.03 L421.3,396.63 L421.8,396.05 L422.3,395.33 L422.8,394.37 L423.3,393.73 L423.8,393.15 L424.3,392.35 L424.8,391.42 L425.3,390.43 L425.8,389.71 L426.3,388.85 L426.8,387.38 L427.3,385.83 L427.8,384.24 L428.3,383.1 L428.8,381.53 L429.3,380.15 L429.8,378.44 L430.3,376.73 L430.8,374.57 L431.3,372.05 L431.8,369.3 L432.3,366.61 L432.8,363.97 L433.3,361.48 L433.8,359.48 L434.3,357.43 L434.8,355.42 L435.3,353.28 L435.8,351.48 L436.3,350.05 L436.8,348.93 L437.3,348.76 L437.8,349.17 L438.3,350.23 L438.8,351.43 L439.3,352.92 L439.8,354.68 L440.3,356.12 L440.8,358.05 L441.3,360.92 L441.8,364.66 L442.3,368.17 L442.8,371.04 L443.3,372.87 L443.8,374.38 L444.3,376.05 L444.8,377.78 L445.3,379.56 L445.8,380.83 L446.3,382.1 L446.8,383.07 L447.3,384.29 L447.8,385.32 L448.3,386.5 L448.8,387.39 L449.3,388.17 L449.8,388.77 L450.3,389.23 L450.8,389.81 L451.3,390.3 L451.8,390.66 L452.3,390.87 L452.8,391.26 L453.3,391.46 L453.8,391.66 L454.3,391.48 L454.8,391.33 L455.3,391.01 L455.8,390.78 L456.3,390.63 L456.8,390.5 L457.3,390.08 L457.8,389.69 L458.3,389.3 L458.8,389.23 L459.3,388.6 L459.8,388.12 L460.3,387.29 L460.8,386.89 L461.3,386.07 L461.8,385.37 L462.3,384.66 L462.8,383.88 L463.3,382.98 L463.8,381.84 L464.3,380.59 L464.8,379.36 L465.3,377.97 L465.8,376.54 L466.3,375 L466.8,373.46 L467.3,372.02 L467.8,370.34 L468.3,368.11 L468.8,365.57 L469.3,362.93 L469.8,360.47 L470.3,358.11 L470.8,356.36 L471.3,355.43 L471.8,355.46 L472.3,356.08 L472.8,356.99 L473.3,357.98 L473.8,359.2 L474.3,360.5 L474.8,362.25 L475.3,364.37 L475.8,367.3 L476.3,370.73 L476.8,374.68 L477.3,379.69 L477.8,386.39 L478.3,392.04 L478.8,394.99 L479.3,397.53 L479.8,399.26 L480.3,400.97 L480.8,401.99 L481.3,402.78 L481.8,403.69 L482.3,404.38 L482.8,404.98 L483.3,405.27 L483.8,405.45 L484.3,405.81 L484.8,406.23 L485.3,406.47 L485.8,406.7 L486.3,406.84 L486.8,407.3 L487.3,407.64 L487.8,407.72 L488.3,407.67 L488.8,407.7 L489.3,407.82 L489.8,407.96 L490.3,408.12 L490.8,408.42 L491.3,408.56 L491.8,408.5 L492.3,408.46 L492.8,408.3 L493.3,408.37 L493.8,408.25 L494.3,408.72 L494.8,408.83 L495.3,408.99 L495.8,408.77 L496.3,408.49 L496.8,408.58 L497.3,408.79 L497.8,409.01 L498.3,409.03 L498.8,408.97 L499.3,408.92 L499.8,408.97 L500.3,409.06 L500.8,409.26 L501.3,409.19 L501.8,409.15 L502.3,409 L502.8,409.04 L503.3,409.09 L503.8,409.14 L504.3,409.25 L504.8,409.13 L505.3,409.06 L505.8,408.97 L506.3,408.94 L506.8,409.2 L507.3,409.12 L507.8,409.34 L508.3,409.26 L508.8,409.43 L509.3,409.29 L509.8,409.35 L510.3,409.46 L510.8,409.57 L511.3,409.59 L511.8,409.37 L512.3,409.49 L512.8,409.63 L513.3,409.75 L513.8,409.68 L514.3,409.53 L514.8,409.49 L515.3,409.41 L515.8,409.57 L516.3,409.73 L516.8,409.76 L517.3,409.83 L517.8,409.9 L518.3,410.02 L518.8,410.08 L519.3,410 L519.8,409.99 L520.3,409.96 L520.8,410.01 L521.3,410.13 L521.8,409.98 L522.3,410.16 L522.8,410.02 L523.3,410.16 L523.8,409.9 L524.3,410.07 L524.8,410.24 L525.3,410.51 L525.8,410.56 L526.3,410.3 L526.8,410.14 L527.3,410.03 L527.8,410.12 L528.3,410.34 L528.8,410.41" stroke="#128a8e" stroke-width="1.9"/>
<path d="M279.3,356.32 L279.8,357.65 L280.3,358.7 L280.8,359.63 L281.3,360.32 L281.8,361.06 L282.3,360.8 L282.8,358.73 L283.02,357.35 L283.3,355.17 L283.65,352.79 L283.8,352 L284.1,351.36 L284.3,351.57 L284.55,352.58 L284.8,354.28 L285.18,357.03 L285.3,357.72 L285.8,360.19 L286.3,361.95 L286.8,363.09 L287.3,363.87 L287.8,364.12 L288.3,364.24 L288.8,364.24 L289.3,364.17 L289.8,364.28 L290.3,364.19 L290.8,363.55 L290.86,363.44 L291.3,362.46 L291.35,362.29 L291.7,362.09 L291.8,362.21 L292.05,362.52 L292.3,362.94 L292.54,363.53 L292.8,364.19 L293.3,364.8 L293.8,365.04 L294.3,365.17 L294.8,365.14 L295.3,365.09 L295.8,364.8 L296.3,364.56 L296.8,364.29 L297.3,364.09 L297.8,364.26 L298.3,364.3 L298.8,364.78 L299.3,365.09 L299.8,365.33 L300.3,365.53 L300.8,365.84 L301.3,366.17 L301.8,366.39 L302.3,366.25 L302.8,366.53 L303.3,366.43 L303.8,366.8 L304.3,366.72 L304.8,366.72 L305.3,366.79 L305.8,367.27 L306.3,367.54 L306.8,367.63 L307.3,367.47 L307.8,367.54 L308.3,367.57 L308.8,367.77 L309.3,367.74 L309.8,367.72 L310.3,366.71 L310.8,361.08 L311.18,350.42 L311.3,346.28 L311.6,336.43 L311.8,332.74 L311.9,332.07 L312.2,336.42 L312.3,339.36 L312.62,350.73 L312.8,356.64 L313.3,366.05 L313.8,368.37 L314.3,368.76 L314.8,368.6 L315.3,368.47 L315.8,368.68 L316.3,368.92 L316.8,369.3 L317.3,369.29 L317.8,369.57 L318.3,369.62 L318.8,370.05 L319.3,370.11 L319.8,370.32 L320.3,370.2 L320.8,370.48 L321.3,370.41 L321.8,370.47 L322.3,370.38 L322.8,370.62 L323.3,370.72 L323.8,370.74 L324.3,370.75 L324.8,370.7 L325.3,370.82 L325.8,370.81 L326.3,370.81 L326.8,370.78 L327.3,370.84 L327.8,371.15 L328.3,371.11 L328.8,371.11 L329.3,371.02 L329.8,370.82 L330.3,370.56 L330.8,370.21 L331.3,370.32 L331.8,370.63 L332.3,370.67 L332.8,370.69 L333.3,370.31 L333.8,369.91 L334.3,369.46 L334.8,369.49 L335.3,369.68 L335.8,369.68 L336.3,369.52 L336.8,368.99 L337.3,368.57 L337.78,367.64 L337.8,367.67 L338.3,366.31 L338.55,365.76 L338.8,365.38 L339.1,365.4 L339.3,365.24 L339.65,365.8 L339.8,365.98 L340.3,367.08 L340.42,367.16 L340.8,367.89 L341.3,368.41 L341.8,368.81 L342.3,368.9 L342.8,369.22 L343.3,369.17 L343.8,369.42 L344.3,369.37 L344.8,369.43 L345.3,369.44 L345.8,369.68 L346.3,369.82 L346.8,369.62 L347.3,369.48 L347.8,369.44 L348.3,369.5 L348.8,369.65 L349.3,369.75 L349.8,369.79 L350.3,369.66 L350.8,369.6 L351.3,369.65 L351.8,369.69 L352.3,369.64 L352.8,369.52 L353.3,369.6 L353.8,369.57 L354.3,369.42 L354.8,369.25 L355.3,369.08 L355.8,368.86 L356.3,368.61 L356.8,368.43 L357.3,368.43 L357.8,368.37 L358.3,368.42 L358.8,368.3 L359.3,367.31 L359.8,361.9 L360.26,348.41 L360.3,346.68 L360.69,332.16 L360.8,329.5 L361,327.44 L361.3,332.16 L361.31,332.38 L361.74,348.63 L361.8,350.46 L362.3,363.65 L362.8,367.67 L363.3,368.47 L363.8,368.47 L364.3,368.55 L364.8,368.66 L365.3,368.64 L365.8,368.77 L366.3,368.72 L366.8,368.8 L367.3,368.54 L367.8,368.47 L368.3,368.31 L368.8,367.84 L369.3,367.38 L369.8,367.09 L370.3,367.13 L370.8,366.95 L371.3,366.72 L371.8,366.74 L372.3,366.65 L372.8,366.79 L373.3,366.98 L373.8,367.56 L374.3,368.31 L374.8,368.97 L375.3,369.31 L375.8,369.17 L376.3,369.03 L376.8,369.11 L377.3,369.11 L377.8,369.04 L378.3,368.76 L378.8,368.53 L379.3,368.17 L379.8,367.54 L380.3,367.21 L380.8,366.61 L381.3,366.32 L381.8,366.04 L382.3,366.11 L382.8,366.3 L383.3,366.31 L383.8,366.37 L384.3,366.57 L384.8,366.5 L385.3,364.02 L385.54,361.45 L385.8,357.84 L385.93,356.48 L386.2,355.05 L386.3,355.41 L386.48,356.88 L386.8,361 L386.86,361.72 L387.3,365.94 L387.8,367.41 L388.3,367.58 L388.8,367.63 L389.3,367.78 L389.8,367.82 L390.3,367.77 L390.8,367.98 L391.3,367.97 L391.8,368.04 L392.3,367.89 L392.8,368.05 L393.3,368 L393.8,367.65 L394.3,367.35 L394.8,367.47 L395.3,367.47 L395.8,367.36 L396.3,367.11 L396.8,367.12 L397.3,366.91 L397.8,366.72 L398.3,366.3 L398.8,366.49 L399.3,366.55 L399.8,366.62 L400.3,366.22 L400.8,365.94 L401.3,365.48 L401.8,365.37 L402.3,365.02 L402.8,364.96 L403.3,364.74 L403.8,364.72 L404.3,364.79 L404.8,364.82 L405.3,364.78 L405.8,364.52 L406.3,364.42 L406.8,364.28 L407.3,364.38 L407.8,364.11 L408.3,363.74 L408.8,363.45 L409.3,363.63 L409.8,363.81 L410.3,363.7 L410.8,363.41 L411.3,363.24 L411.8,363.12 L412.3,362.77 L412.8,362.48 L413.3,362.16 L413.8,361.83 L414.3,361.35 L414.8,360.96 L415.3,360.71 L415.8,360.46 L416.3,360.04 L416.8,359.53 L417.3,359.25 L417.8,358.74 L418.3,358.27 L418.8,357.64 L419.3,357.02 L419.8,356.3 L420.3,355.53 L420.8,354.98 L421.3,354.24 L421.8,353.41 L422.3,352.46 L422.8,351.51 L423.3,350.75 L423.8,349.85 L424.3,348.86 L424.8,347.71 L425.3,346.43 L425.8,345.25 L426.3,343.82 L426.8,342.09 L427.3,340.18 L427.8,337.68 L428.3,335.29 L428.8,332.67 L429.3,330.4 L429.8,328 L430.3,325.42 L430.8,322.55 L431.3,319.68 L431.8,317.1 L432.3,314.63 L432.8,312.7 L433.3,310.81 L433.8,309.12 L434.3,307.32 L434.8,305.98 L435.3,304.57 L435.8,303.64 L436.3,302.89 L436.8,302.95 L437.3,303.35 L437.8,304.09 L438.3,305.1 L438.8,306.07 L439.3,307.29 L439.8,308.39 L440.3,310.34 L440.8,312.42 L441.3,314.92 L441.8,317.48 L442.3,320.29 L442.8,322.86 L443.3,325.47 L443.8,328.2 L444.3,330.8 L444.8,333.24 L445.3,335.52 L445.8,337.73 L446.3,339.76 L446.8,341.39 L447.3,342.56 L447.8,343.82 L448.3,344.78 L448.8,345.88 L449.3,346.41 L449.8,347.1 L450.3,347.59 L450.8,348.06 L451.3,348.37 L451.8,348.73 L452.3,349.31 L452.8,349.74 L453.3,350.32 L453.8,350.67 L454.3,350.89 L454.8,351.25 L455.3,351.32 L455.8,351.65 L456.3,351.43 L456.8,351.55 L457.3,351.27 L457.8,351.24 L458.3,350.86 L458.8,350.37 L459.3,349.83 L459.8,349.43 L460.3,349.18 L460.8,348.57 L461.3,347.75 L461.8,346.97 L462.3,346.45 L462.8,345.9 L463.3,345.04 L463.8,344.09 L464.3,343.03 L464.8,341.8 L465.3,340.08 L465.8,338.06 L466.3,335.51 L466.8,332.66 L467.3,329.78 L467.8,326.87 L468.3,324.21 L468.8,321.2 L469.3,317.84 L469.8,314.46 L470.3,311.14 L470.8,308.33 L471.3,306.12 L471.8,305.04 L472.3,305.2 L472.8,305.88 L473.3,306.96 L473.8,308.27 L474.3,310.21 L474.8,314.31 L475.3,320.21 L475.8,326.11 L476.3,333.03 L476.8,340.27 L477.3,346.13 L477.8,350.51 L478.3,354.38 L478.8,358.71 L479.3,362.92 L479.8,364.67 L480.3,365.71 L480.8,366.1 L481.3,366.61 L481.8,366.82 L482.3,367.19 L482.8,367.28 L483.3,367.84 L483.8,368.14 L484.3,368.55 L484.8,368.61 L485.3,368.76 L485.8,368.91 L486.3,368.77 L486.8,368.9 L487.3,368.9 L487.8,369.17 L488.3,369.25 L488.8,369.22 L489.3,369.06 L489.8,369.01 L490.3,369.28 L490.8,369.57 L491.3,369.77 L491.8,369.55 L492.3,369.29 L492.8,369.24 L493.3,369.46 L493.8,369.71 L494.3,369.86 L494.8,369.93 L495.3,369.92 L495.8,369.85 L496.3,369.93 L496.8,370.11 L497.3,370.25 L497.8,370.52 L498.3,370.55 L498.8,370.63 L499.3,370.36 L499.8,370.42 L500.3,370.52 L500.8,370.74 L501.3,370.83 L501.8,370.88 L502.3,370.89 L502.8,370.78 L503.3,370.47 L503.8,370.76 L504.3,371.09 L504.8,371.47 L505.3,371.12 L505.8,370.97 L506.3,371.16 L506.8,371.11 L507.3,371.25 L507.8,371.24 L508.3,371.58 L508.8,371.73 L509.3,371.66 L509.8,371.92 L510.3,371.77 L510.8,371.67 L511.3,371.48 L511.8,371.74 L512.3,371.89 L512.8,371.98 L513.3,371.8 L513.8,371.7 L514.3,371.75 L514.8,371.97 L515.3,372.25 L515.8,372.08 L516.3,371.82 L516.8,371.57 L517.3,371.6 L517.8,371.78 L518.3,371.96 L518.8,371.85 L519.3,371.82 L519.8,371.78 L520.3,371.95 L520.8,371.93 L521.3,371.92 L521.8,371.98 L522.3,372 L522.8,372.05 L523.3,371.93 L523.8,371.96 L524.3,371.93 L524.8,371.8 L525.3,371.81 L525.8,371.8 L526.3,372.11 L526.8,372.04 L527.3,372.06 L527.8,371.99 L528.3,372.01 L528.8,372.02" stroke="#129020" stroke-width="1.9"/>
<path d="M279.3,305.78 L279.8,306.04 L280.3,306.01 L280.8,306.24 L281.3,306.19 L281.8,306.46 L282.3,306.62 L282.8,306.69 L283.02,306.81 L283.3,306.81 L283.65,307.07 L283.8,306.86 L284.1,306.88 L284.3,306.58 L284.55,306.65 L284.8,306.67 L285.18,306.89 L285.3,306.88 L285.8,306.81 L286.3,306.77 L286.8,306.93 L287.3,307.23 L287.8,307.31 L288.3,307.34 L288.8,307.21 L289.3,307.28 L289.8,307.42 L290.3,307.5 L290.8,307.64 L290.86,307.66 L291.3,307.88 L291.35,307.85 L291.7,308.09 L291.8,308.19 L292.05,308.33 L292.3,308.1 L292.54,307.93 L292.8,307.81 L293.3,307.89 L293.8,307.96 L294.3,307.97 L294.8,308.04 L295.3,308.11 L295.8,308.03 L296.3,307.89 L296.8,307.79 L297.3,307.91 L297.8,307.84 L298.3,307.88 L298.8,307.93 L299.3,308.05 L299.8,307.98 L300.3,307.85 L300.8,307.86 L301.3,308 L301.8,308.14 L302.3,308.12 L302.8,307.94 L303.3,308 L303.8,308.04 L304.3,308.21 L304.8,308.1 L305.3,307.97 L305.8,307.89 L306.3,307.89 L306.8,308.1 L307.3,308.14 L307.8,307.8 L308.3,307.67 L308.8,307.7 L309.3,308.14 L309.8,308.24 L310.3,308.45 L310.8,308.46 L311.18,308.53 L311.3,308.37 L311.6,308.09 L311.8,308.04 L311.9,308 L312.2,308.05 L312.3,308.01 L312.62,307.92 L312.8,307.88 L313.3,307.64 L313.8,307.37 L314.3,307.22 L314.8,306.97 L315.3,306.84 L315.8,306.44 L316.3,306.31 L316.8,305.97 L317.3,306 L317.8,305.98 L318.3,306.05 L318.8,305.99 L319.3,305.85 L319.8,305.9 L320.3,305.68 L320.8,305.63 L321.3,305.18 L321.8,305.1 L322.3,304.9 L322.8,304.84 L323.3,304.81 L323.8,304.81 L324.3,304.74 L324.8,304.68 L325.3,304.55 L325.8,304.46 L326.3,304.43 L326.8,304.37 L327.3,304.66 L327.8,304.54 L328.3,304.61 L328.8,304.13 L329.3,304.03 L329.8,303.47 L330.3,303.08 L330.8,302.46 L331.3,302 L331.8,301.62 L332.3,301.16 L332.8,300.43 L333.3,299.53 L333.8,298.45 L334.3,297.83 L334.8,297.47 L335.3,297.28 L335.8,296.85 L336.3,296.25 L336.8,295.65 L337.3,295.16 L337.78,294.86 L337.8,294.73 L338.3,294.54 L338.55,294.25 L338.8,294.34 L339.1,294.17 L339.3,294.29 L339.65,294.24 L339.8,294.22 L340.3,294.37 L340.42,294.41 L340.8,294.92 L341.3,295.15 L341.8,295.47 L342.3,295.46 L342.8,295.71 L343.3,295.89 L343.8,296.41 L344.3,297.14 L344.8,297.89 L345.3,298.62 L345.8,299.16 L346.3,299.98 L346.8,300.63 L347.3,301.46 L347.8,302.24 L348.3,302.88 L348.8,303.63 L349.3,304.17 L349.8,304.75 L350.3,305.01 L350.8,305.04 L351.3,304.51 L351.8,303.81 L352.3,302.77 L352.8,301.66 L353.3,300.2 L353.8,298.29 L354.3,295.39 L354.8,291.81 L355.3,288.21 L355.8,284.94 L356.3,281.54 L356.8,277.43 L357.3,273.29 L357.8,268.94 L358.3,264.14 L358.8,259.48 L359.3,256.03 L359.8,255.1 L360.26,256.09 L360.3,256.21 L360.69,257.78 L360.8,258.31 L361,259.57 L361.3,261.48 L361.31,261.59 L361.74,264.54 L361.8,264.97 L362.3,270.4 L362.8,276.97 L363.3,282.62 L363.8,287.54 L364.3,291.72 L364.8,295.42 L365.3,298.79 L365.8,302.17 L366.3,305.24 L366.8,307.8 L367.3,309.61 L367.8,311.08 L368.3,312.17 L368.8,313.3 L369.3,314.18 L369.8,315.07 L370.3,315.67 L370.8,316.38 L371.3,317.25 L371.8,318.2 L372.3,318.93 L372.8,319.6 L373.3,320.3 L373.8,321.05 L374.3,321.54 L374.8,322.12 L375.3,322.66 L375.8,323.37 L376.3,324.03 L376.8,324.93 L377.3,325.82 L377.8,327.03 L378.3,327.8 L378.8,328.5 L379.3,328.7 L379.8,329.27 L380.3,329.54 L380.8,329.89 L381.3,329.92 L381.8,330.28 L382.3,330.56 L382.8,330.99 L383.3,331.09 L383.8,331.31 L384.3,331.56 L384.8,331.85 L385.3,332.02 L385.54,331.86 L385.8,331.74 L385.93,331.79 L386.2,332.1 L386.3,332.35 L386.48,332.23 L386.8,332.26 L386.86,332.33 L387.3,332.77 L387.8,333.01 L388.3,333.15 L388.8,333.27 L389.3,333.19 L389.8,333.52 L390.3,333.7 L390.8,334.18 L391.3,334.37 L391.8,334.5 L392.3,334.56 L392.8,334.53 L393.3,334.51 L393.8,334.65 L394.3,334.87 L394.8,335.06 L395.3,335.22 L395.8,335.26 L396.3,335.44 L396.8,335.32 L397.3,335.16 L397.8,335.21 L398.3,335.37 L398.8,335.56 L399.3,335.46 L399.8,335.39 L400.3,335.4 L400.8,335.41 L401.3,335.26 L401.8,335.37 L402.3,335.28 L402.8,335.46 L403.3,335.37 L403.8,335.56 L404.3,335.44 L404.8,335.6 L405.3,335.65 L405.8,335.9 L406.3,335.92 L406.8,335.78 L407.3,335.4 L407.8,335.31 L408.3,335.53 L408.8,335.96 L409.3,335.88 L409.8,335.74 L410.3,335.66 L410.8,335.53 L411.3,335.48 L411.8,335.39 L412.3,335.71 L412.8,335.67 L413.3,335.81 L413.8,335.55 L414.3,335.32 L414.8,335.24 L415.3,334.98 L415.8,335.05 L416.3,334.83 L416.8,334.65 L417.3,334.19 L417.8,333.81 L418.3,333.53 L418.8,333.16 L419.3,332.55 L419.8,332.1 L420.3,331.89 L420.8,331.5 L421.3,331.09 L421.8,330.61 L422.3,330.18 L422.8,329.64 L423.3,328.94 L423.8,327.98 L424.3,327.27 L424.8,326.47 L425.3,325.91 L425.8,324.95 L426.3,323.99 L426.8,323.04 L427.3,322.2 L427.8,321.18 L428.3,320 L428.8,318.38 L429.3,316.55 L429.8,314.27 L430.3,311.78 L430.8,309.24 L431.3,306.69 L431.8,304.06 L432.3,300.82 L432.8,297.79 L433.3,294.77 L433.8,292.26 L434.3,290.08 L434.8,288.16 L435.3,286.35 L435.8,284.8 L436.3,283.87 L436.8,283.46 L437.3,283.57 L437.8,284.23 L438.3,285.09 L438.8,286.36 L439.3,287.55 L439.8,289.13 L440.3,291.13 L440.8,293.33 L441.3,295.51 L441.8,297.33 L442.3,299.38 L442.8,301.68 L443.3,304.2 L443.8,306.66 L444.3,309.18 L444.8,311.27 L445.3,313.36 L445.8,315.36 L446.3,317.31 L446.8,318.81 L447.3,320.34 L447.8,321.68 L448.3,323.12 L448.8,324.15 L449.3,324.97 L449.8,325.44 L450.3,325.4 L450.8,325.46 L451.3,325.38 L451.8,325.75 L452.3,325.87 L452.8,325.66 L453.3,325.68 L453.8,325.58 L454.3,326 L454.8,325.83 L455.3,325.96 L455.8,325.91 L456.3,325.86 L456.8,325.54 L457.3,325.34 L457.8,325.03 L458.3,324.74 L458.8,324.24 L459.3,323.69 L459.8,323.4 L460.3,322.86 L460.8,322.45 L461.3,321.71 L461.8,320.93 L462.3,320.01 L462.8,319.15 L463.3,318.34 L463.8,317.57 L464.3,316.5 L464.8,315.17 L465.3,313.83 L465.8,312.28 L466.3,310.55 L466.8,308.38 L467.3,305.94 L467.8,303.76 L468.3,301.63 L468.8,299.54 L469.3,296.78 L469.8,294.52 L470.3,292.35 L470.8,291.28 L471.3,291.02 L471.8,291.56 L472.3,292.09 L472.8,292.9 L473.3,294.02 L473.8,296.42 L474.3,300.37 L474.8,304.51 L475.3,307.94 L475.8,311.45 L476.3,314.89 L476.8,318.21 L477.3,320.97 L477.8,323.44 L478.3,325.41 L478.8,327.47 L479.3,329.48 L479.8,331.69 L480.3,334.1 L480.8,336.33 L481.3,337.89 L481.8,338.67 L482.3,339.22 L482.8,339.87 L483.3,340.36 L483.8,340.87 L484.3,341.26 L484.8,341.67 L485.3,342 L485.8,342.25 L486.3,342.48 L486.8,342.81 L487.3,343.01 L487.8,343.28 L488.3,343.29 L488.8,343.43 L489.3,343.48 L489.8,343.56 L490.3,343.77 L490.8,343.93 L491.3,344.13 L491.8,344.41 L492.3,344.61 L492.8,344.91 L493.3,344.95 L493.8,345.17 L494.3,345.11 L494.8,345.2 L495.3,345.47 L495.8,345.7 L496.3,345.87 L496.8,345.72 L497.3,345.8 L497.8,345.66 L498.3,345.63 L498.8,345.66 L499.3,345.93 L499.8,346.04 L500.3,346.05 L500.8,345.99 L501.3,346.08 L501.8,346.04 L502.3,345.99 L502.8,346.05 L503.3,346.05 L503.8,346.15 L504.3,346.14 L504.8,346.26 L505.3,346.43 L505.8,346.5 L506.3,346.64 L506.8,346.55 L507.3,346.56 L507.8,346.66 L508.3,346.84 L508.8,346.9 L509.3,346.93 L509.8,346.95 L510.3,347.04 L510.8,347.2 L511.3,347.18 L511.8,347.24 L512.3,347.16 L512.8,347.22 L513.3,347.09 L513.8,347.15 L514.3,347.24 L514.8,347.39 L515.3,347.36 L515.8,347.37 L516.3,347.3 L516.8,347.36 L517.3,347.21 L517.8,347.33 L518.3,347.18 L518.8,347.35 L519.3,347.45 L519.8,347.6 L520.3,347.61 L520.8,347.62 L521.3,347.64 L521.8,347.67 L522.3,347.6 L522.8,347.8 L523.3,347.93 L523.8,348.03 L524.3,347.78 L524.8,347.79 L525.3,347.63 L525.8,347.81 L526.3,347.65 L526.8,347.98 L527.3,347.78 L527.8,348.02 L528.3,347.91 L528.8,348.09" stroke="#9a1616" stroke-width="1.9"/>
</g>
<rect x="279.25" y="238.6" width="250.25" height="181.9" fill="none" stroke="#000" stroke-width="1.5"/>
<line x1="315.52" y1="420.5" x2="315.52" y2="424.0" stroke="#111" stroke-width="1.2"/>
<text x="316.17" y="437.9" class="tk" text-anchor="middle" style="font-size:14px;letter-spacing:1.3px">500</text>
<line x1="386.85" y1="420.5" x2="386.85" y2="424.0" stroke="#111" stroke-width="1.2"/>
<text x="387.50" y="437.9" class="tk" text-anchor="middle" style="font-size:14px;letter-spacing:1.3px">1000</text>
<line x1="458.17" y1="420.5" x2="458.17" y2="424.0" stroke="#111" stroke-width="1.2"/>
<text x="458.82" y="437.9" class="tk" text-anchor="middle" style="font-size:14px;letter-spacing:1.3px">1500</text>
<line x1="529.50" y1="420.5" x2="529.50" y2="424.0" stroke="#111" stroke-width="1.2"/>
<text x="530.15" y="437.9" class="tk" text-anchor="middle" style="font-size:14px;letter-spacing:1.3px">2000</text>
<line x1="279.86" y1="420.5" x2="279.86" y2="422.7" stroke="#111" stroke-width="1.2"/>
<line x1="351.19" y1="420.5" x2="351.19" y2="422.7" stroke="#111" stroke-width="1.2"/>
<line x1="422.51" y1="420.5" x2="422.51" y2="422.7" stroke="#111" stroke-width="1.2"/>
<line x1="493.84" y1="420.5" x2="493.84" y2="422.7" stroke="#111" stroke-width="1.2"/>
<text transform="translate(299.3,267.9) scale(0.9,1)" class="pl" style="font-size:19.5px">d</text>
<text x="339.5" y="452.4" class="ax" style="font-size:14px;letter-spacing:0.9px">Raman Shift (cm<tspan dy="-6" style="font-size:9px;font-weight:normal;letter-spacing:0.3px">&#8722;1</tspan><tspan dy="6">)</tspan></text>
<line x1="446" y1="244.7" x2="468.5" y2="244.7" stroke="#128a8e" stroke-width="1.5"/>
<text x="473" y="247.7" class="lg2" style="font-size:8.5px">GO</text>
<line x1="446" y1="256" x2="468.5" y2="256" stroke="#129020" stroke-width="1.5"/>
<text x="473" y="259" class="lg2" style="font-size:8.5px">GO<tspan style="stroke:#333;stroke-width:0.12px">@</tspan>MoO<tspan dy="2.5" style="font-size:9px;font-weight:normal">2</tspan></text>
<line x1="446" y1="270.2" x2="468.5" y2="270.2" stroke="#9a1616" stroke-width="1.5"/>
<text x="473" y="273.2" class="lg2" style="font-size:8.5px">GO<tspan style="stroke:#333;stroke-width:0.12px">@</tspan>WO<tspan dy="2.5" style="font-size:9px;font-weight:normal">3</tspan></text>
</svg>
</body></html>
